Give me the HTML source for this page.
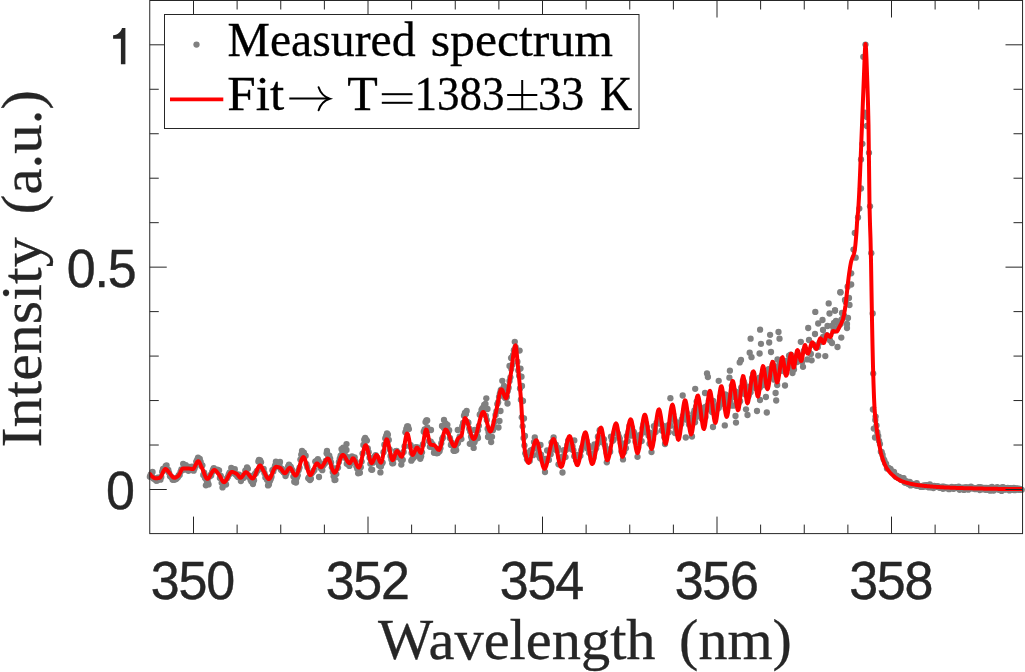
<!DOCTYPE html>
<html><head><meta charset="utf-8"><style>
html,body{margin:0;padding:0;background:#fff;}
body{width:1025px;height:672px;overflow:hidden;}
svg{display:block;will-change:transform;}

.tk{font-family:"Liberation Sans",sans-serif;font-size:52px;fill:#262626;stroke:#262626;stroke-width:0.4px;}
</style></head><body>
<svg width="1025" height="672" viewBox="0 0 1025 672">
<rect x="0" y="0" width="1025" height="672" fill="#fff"/>
<defs><clipPath id="ax"><rect x="149.5" y="0.5" width="873.0" height="533.0"/></clipPath></defs>
<g fill="#808080"><circle cx="149.9" cy="476.67" r="3.15"/><circle cx="150.78" cy="474.36" r="3.15"/><circle cx="151.65" cy="474.78" r="3.15"/><circle cx="152.53" cy="471.92" r="3.15"/><circle cx="153.4" cy="478.43" r="3.15"/><circle cx="154.28" cy="478.69" r="3.15"/><circle cx="155.15" cy="478.55" r="3.15"/><circle cx="156.03" cy="480.49" r="3.15"/><circle cx="156.9" cy="480.72" r="3.15"/><circle cx="157.78" cy="477.63" r="3.15"/><circle cx="158.65" cy="477.89" r="3.15"/><circle cx="159.53" cy="478.44" r="3.15"/><circle cx="160.4" cy="479.69" r="3.15"/><circle cx="161.28" cy="476.96" r="3.15"/><circle cx="162.15" cy="471.68" r="3.15"/><circle cx="163.03" cy="468.8" r="3.15"/><circle cx="163.9" cy="469.63" r="3.15"/><circle cx="164.78" cy="469.54" r="3.15"/><circle cx="165.65" cy="466.08" r="3.15"/><circle cx="166.53" cy="465.47" r="3.15"/><circle cx="167.4" cy="470.69" r="3.15"/><circle cx="168.28" cy="469.91" r="3.15"/><circle cx="169.15" cy="472.95" r="3.15"/><circle cx="170.03" cy="476.36" r="3.15"/><circle cx="170.9" cy="476.59" r="3.15"/><circle cx="171.78" cy="477.58" r="3.15"/><circle cx="172.65" cy="479.82" r="3.15"/><circle cx="173.53" cy="478.44" r="3.15"/><circle cx="174.4" cy="479.77" r="3.15"/><circle cx="175.28" cy="478.65" r="3.15"/><circle cx="176.15" cy="479.06" r="3.15"/><circle cx="177.03" cy="477.63" r="3.15"/><circle cx="177.9" cy="477.23" r="3.15"/><circle cx="178.78" cy="475.26" r="3.15"/><circle cx="179.65" cy="474.92" r="3.15"/><circle cx="180.53" cy="471.85" r="3.15"/><circle cx="181.4" cy="469.46" r="3.15"/><circle cx="182.28" cy="469.9" r="3.15"/><circle cx="183.15" cy="463.81" r="3.15"/><circle cx="184.03" cy="469.72" r="3.15"/><circle cx="184.9" cy="466.93" r="3.15"/><circle cx="185.78" cy="465.25" r="3.15"/><circle cx="186.65" cy="467.55" r="3.15"/><circle cx="187.53" cy="468.44" r="3.15"/><circle cx="188.4" cy="470.79" r="3.15"/><circle cx="189.28" cy="467.01" r="3.15"/><circle cx="190.15" cy="469.8" r="3.15"/><circle cx="191.03" cy="470.01" r="3.15"/><circle cx="191.9" cy="466.65" r="3.15"/><circle cx="192.78" cy="467.64" r="3.15"/><circle cx="193.65" cy="470.68" r="3.15"/><circle cx="194.53" cy="468.53" r="3.15"/><circle cx="195.4" cy="466.03" r="3.15"/><circle cx="196.28" cy="461.59" r="3.15"/><circle cx="197.15" cy="459.92" r="3.15"/><circle cx="198.03" cy="457.7" r="3.15"/><circle cx="198.9" cy="460.43" r="3.15"/><circle cx="199.78" cy="458.87" r="3.15"/><circle cx="200.65" cy="461.89" r="3.15"/><circle cx="201.53" cy="466.13" r="3.15"/><circle cx="202.4" cy="465.34" r="3.15"/><circle cx="203.28" cy="474.96" r="3.15"/><circle cx="204.15" cy="472.75" r="3.15"/><circle cx="205.03" cy="477.95" r="3.15"/><circle cx="205.9" cy="485.33" r="3.15"/><circle cx="206.78" cy="480.85" r="3.15"/><circle cx="207.65" cy="481.48" r="3.15"/><circle cx="208.53" cy="484.47" r="3.15"/><circle cx="209.4" cy="476.83" r="3.15"/><circle cx="210.28" cy="475.12" r="3.15"/><circle cx="211.15" cy="475.42" r="3.15"/><circle cx="212.03" cy="472.22" r="3.15"/><circle cx="212.9" cy="469.99" r="3.15"/><circle cx="213.78" cy="468.12" r="3.15"/><circle cx="214.65" cy="469.91" r="3.15"/><circle cx="215.53" cy="469.81" r="3.15"/><circle cx="216.4" cy="470.38" r="3.15"/><circle cx="217.28" cy="469.75" r="3.15"/><circle cx="218.15" cy="470.74" r="3.15"/><circle cx="219.03" cy="470.41" r="3.15"/><circle cx="219.9" cy="477.93" r="3.15"/><circle cx="220.78" cy="475.88" r="3.15"/><circle cx="221.65" cy="482.79" r="3.15"/><circle cx="222.53" cy="487.38" r="3.15"/><circle cx="223.4" cy="483.17" r="3.15"/><circle cx="224.28" cy="483.92" r="3.15"/><circle cx="225.15" cy="483.79" r="3.15"/><circle cx="226.03" cy="484.52" r="3.15"/><circle cx="226.9" cy="478.52" r="3.15"/><circle cx="227.78" cy="477.03" r="3.15"/><circle cx="228.65" cy="474.76" r="3.15"/><circle cx="229.53" cy="472.55" r="3.15"/><circle cx="230.4" cy="473.52" r="3.15"/><circle cx="231.28" cy="467.94" r="3.15"/><circle cx="232.15" cy="469.99" r="3.15"/><circle cx="233.03" cy="470.73" r="3.15"/><circle cx="233.9" cy="472.6" r="3.15"/><circle cx="234.78" cy="469.27" r="3.15"/><circle cx="235.65" cy="474.54" r="3.15"/><circle cx="236.53" cy="474.24" r="3.15"/><circle cx="237.4" cy="476.51" r="3.15"/><circle cx="238.28" cy="476.95" r="3.15"/><circle cx="239.15" cy="474.55" r="3.15"/><circle cx="240.03" cy="478" r="3.15"/><circle cx="240.9" cy="481" r="3.15"/><circle cx="241.78" cy="477.98" r="3.15"/><circle cx="242.65" cy="476.72" r="3.15"/><circle cx="243.53" cy="477.92" r="3.15"/><circle cx="244.4" cy="476.47" r="3.15"/><circle cx="245.28" cy="470.63" r="3.15"/><circle cx="246.15" cy="474.45" r="3.15"/><circle cx="247.03" cy="467.32" r="3.15"/><circle cx="247.9" cy="468.84" r="3.15"/><circle cx="248.78" cy="476.85" r="3.15"/><circle cx="249.65" cy="475.76" r="3.15"/><circle cx="250.53" cy="479.71" r="3.15"/><circle cx="251.4" cy="481.41" r="3.15"/><circle cx="252.28" cy="481.16" r="3.15"/><circle cx="253.15" cy="482.71" r="3.15"/><circle cx="254.03" cy="480.19" r="3.15"/><circle cx="254.9" cy="473.85" r="3.15"/><circle cx="255.78" cy="473.49" r="3.15"/><circle cx="256.65" cy="471.36" r="3.15"/><circle cx="257.52" cy="470.64" r="3.15"/><circle cx="258.4" cy="461.4" r="3.15"/><circle cx="259.27" cy="461.7" r="3.15"/><circle cx="260.15" cy="460.52" r="3.15"/><circle cx="261.02" cy="462.28" r="3.15"/><circle cx="261.9" cy="468.65" r="3.15"/><circle cx="262.77" cy="469.28" r="3.15"/><circle cx="263.65" cy="468.95" r="3.15"/><circle cx="264.52" cy="473.13" r="3.15"/><circle cx="265.4" cy="477.61" r="3.15"/><circle cx="266.27" cy="477.15" r="3.15"/><circle cx="267.15" cy="479.92" r="3.15"/><circle cx="268.02" cy="485.39" r="3.15"/><circle cx="268.9" cy="484.48" r="3.15"/><circle cx="269.77" cy="481.35" r="3.15"/><circle cx="270.65" cy="479.26" r="3.15"/><circle cx="271.52" cy="476.69" r="3.15"/><circle cx="272.4" cy="470.14" r="3.15"/><circle cx="273.27" cy="471.42" r="3.15"/><circle cx="274.15" cy="468.55" r="3.15"/><circle cx="275.02" cy="465.58" r="3.15"/><circle cx="275.9" cy="461.63" r="3.15"/><circle cx="276.77" cy="463" r="3.15"/><circle cx="277.65" cy="465.69" r="3.15"/><circle cx="278.52" cy="465.82" r="3.15"/><circle cx="279.4" cy="465.12" r="3.15"/><circle cx="280.27" cy="468.16" r="3.15"/><circle cx="281.15" cy="469.91" r="3.15"/><circle cx="282.02" cy="468.94" r="3.15"/><circle cx="282.9" cy="471.56" r="3.15"/><circle cx="283.77" cy="472.61" r="3.15"/><circle cx="284.65" cy="472.47" r="3.15"/><circle cx="285.52" cy="475.99" r="3.15"/><circle cx="286.4" cy="473.52" r="3.15"/><circle cx="287.27" cy="470.63" r="3.15"/><circle cx="288.15" cy="466.35" r="3.15"/><circle cx="289.02" cy="464.66" r="3.15"/><circle cx="289.9" cy="466.13" r="3.15"/><circle cx="290.77" cy="466.83" r="3.15"/><circle cx="291.65" cy="469.14" r="3.15"/><circle cx="292.52" cy="470.6" r="3.15"/><circle cx="293.4" cy="476.61" r="3.15"/><circle cx="294.27" cy="481.64" r="3.15"/><circle cx="295.15" cy="482.06" r="3.15"/><circle cx="296.02" cy="482.59" r="3.15"/><circle cx="296.9" cy="477.52" r="3.15"/><circle cx="297.77" cy="475.34" r="3.15"/><circle cx="298.65" cy="470.31" r="3.15"/><circle cx="299.52" cy="467.55" r="3.15"/><circle cx="300.4" cy="459.56" r="3.15"/><circle cx="301.27" cy="454.67" r="3.15"/><circle cx="302.15" cy="452.54" r="3.15"/><circle cx="303.02" cy="453.06" r="3.15"/><circle cx="303.9" cy="452.69" r="3.15"/><circle cx="304.77" cy="455.89" r="3.15"/><circle cx="305.65" cy="455.72" r="3.15"/><circle cx="306.52" cy="464.15" r="3.15"/><circle cx="307.4" cy="467.15" r="3.15"/><circle cx="308.27" cy="478.34" r="3.15"/><circle cx="309.15" cy="477.18" r="3.15"/><circle cx="310.02" cy="480.01" r="3.15"/><circle cx="310.9" cy="478.74" r="3.15"/><circle cx="311.77" cy="473.32" r="3.15"/><circle cx="312.65" cy="472.06" r="3.15"/><circle cx="313.52" cy="470.91" r="3.15"/><circle cx="314.4" cy="470.06" r="3.15"/><circle cx="315.27" cy="461.58" r="3.15"/><circle cx="316.15" cy="461.22" r="3.15"/><circle cx="317.02" cy="461.47" r="3.15"/><circle cx="317.9" cy="459.2" r="3.15"/><circle cx="318.77" cy="461.5" r="3.15"/><circle cx="319.65" cy="465.33" r="3.15"/><circle cx="320.52" cy="468.03" r="3.15"/><circle cx="321.4" cy="467.62" r="3.15"/><circle cx="322.27" cy="470.14" r="3.15"/><circle cx="323.15" cy="465.65" r="3.15"/><circle cx="324.02" cy="463.97" r="3.15"/><circle cx="324.9" cy="463.44" r="3.15"/><circle cx="325.77" cy="460.91" r="3.15"/><circle cx="326.65" cy="453.23" r="3.15"/><circle cx="327.52" cy="454.35" r="3.15"/><circle cx="328.4" cy="457.95" r="3.15"/><circle cx="329.27" cy="455.63" r="3.15"/><circle cx="330.15" cy="458.54" r="3.15"/><circle cx="331.02" cy="462.48" r="3.15"/><circle cx="331.9" cy="467.26" r="3.15"/><circle cx="332.77" cy="471.98" r="3.15"/><circle cx="333.65" cy="476.21" r="3.15"/><circle cx="334.52" cy="480.08" r="3.15"/><circle cx="335.4" cy="479.83" r="3.15"/><circle cx="336.27" cy="474.09" r="3.15"/><circle cx="337.15" cy="468.23" r="3.15"/><circle cx="338.02" cy="467.54" r="3.15"/><circle cx="338.9" cy="462.03" r="3.15"/><circle cx="339.77" cy="458.66" r="3.15"/><circle cx="340.65" cy="455.61" r="3.15"/><circle cx="341.52" cy="449.03" r="3.15"/><circle cx="342.4" cy="451.96" r="3.15"/><circle cx="343.27" cy="447.55" r="3.15"/><circle cx="344.15" cy="451.11" r="3.15"/><circle cx="345.02" cy="455.46" r="3.15"/><circle cx="345.9" cy="458.38" r="3.15"/><circle cx="346.77" cy="463.68" r="3.15"/><circle cx="347.65" cy="457.08" r="3.15"/><circle cx="348.52" cy="464.43" r="3.15"/><circle cx="349.4" cy="465.91" r="3.15"/><circle cx="350.27" cy="462.49" r="3.15"/><circle cx="351.15" cy="462.93" r="3.15"/><circle cx="352.02" cy="456.29" r="3.15"/><circle cx="352.9" cy="458.3" r="3.15"/><circle cx="353.77" cy="459.26" r="3.15"/><circle cx="354.65" cy="457.5" r="3.15"/><circle cx="355.52" cy="461.55" r="3.15"/><circle cx="356.4" cy="466.32" r="3.15"/><circle cx="357.27" cy="468.74" r="3.15"/><circle cx="358.15" cy="473.37" r="3.15"/><circle cx="359.02" cy="472.68" r="3.15"/><circle cx="359.9" cy="472.72" r="3.15"/><circle cx="360.77" cy="467.15" r="3.15"/><circle cx="361.65" cy="461.54" r="3.15"/><circle cx="362.52" cy="453.62" r="3.15"/><circle cx="363.4" cy="444.98" r="3.15"/><circle cx="364.27" cy="439.74" r="3.15"/><circle cx="365.15" cy="438" r="3.15"/><circle cx="366.02" cy="439.64" r="3.15"/><circle cx="366.9" cy="440.56" r="3.15"/><circle cx="367.77" cy="448.5" r="3.15"/><circle cx="368.65" cy="452.21" r="3.15"/><circle cx="369.52" cy="457.75" r="3.15"/><circle cx="370.4" cy="463.87" r="3.15"/><circle cx="371.27" cy="469.62" r="3.15"/><circle cx="372.15" cy="469.74" r="3.15"/><circle cx="373.02" cy="462.7" r="3.15"/><circle cx="373.9" cy="460.33" r="3.15"/><circle cx="374.77" cy="456.4" r="3.15"/><circle cx="375.65" cy="455.2" r="3.15"/><circle cx="376.52" cy="457.6" r="3.15"/><circle cx="377.4" cy="457.61" r="3.15"/><circle cx="378.27" cy="462.45" r="3.15"/><circle cx="379.15" cy="465.56" r="3.15"/><circle cx="380.02" cy="464.67" r="3.15"/><circle cx="380.9" cy="466.55" r="3.15"/><circle cx="381.77" cy="463.83" r="3.15"/><circle cx="382.65" cy="462.6" r="3.15"/><circle cx="383.52" cy="452.13" r="3.15"/><circle cx="384.4" cy="444.72" r="3.15"/><circle cx="385.27" cy="438.41" r="3.15"/><circle cx="386.15" cy="435.97" r="3.15"/><circle cx="387.02" cy="433.45" r="3.15"/><circle cx="387.9" cy="434.74" r="3.15"/><circle cx="388.77" cy="440.01" r="3.15"/><circle cx="389.65" cy="449.33" r="3.15"/><circle cx="390.52" cy="455.93" r="3.15"/><circle cx="391.4" cy="459.52" r="3.15"/><circle cx="392.27" cy="463.34" r="3.15"/><circle cx="393.15" cy="463.21" r="3.15"/><circle cx="394.02" cy="457.89" r="3.15"/><circle cx="394.9" cy="457.32" r="3.15"/><circle cx="395.77" cy="451.23" r="3.15"/><circle cx="396.65" cy="450.96" r="3.15"/><circle cx="397.52" cy="452.95" r="3.15"/><circle cx="398.4" cy="453.16" r="3.15"/><circle cx="399.27" cy="457.16" r="3.15"/><circle cx="400.15" cy="458.3" r="3.15"/><circle cx="401.02" cy="459.72" r="3.15"/><circle cx="401.9" cy="460.35" r="3.15"/><circle cx="402.77" cy="459.81" r="3.15"/><circle cx="403.65" cy="452" r="3.15"/><circle cx="404.52" cy="446.44" r="3.15"/><circle cx="405.4" cy="432.19" r="3.15"/><circle cx="406.27" cy="428.96" r="3.15"/><circle cx="407.15" cy="426.42" r="3.15"/><circle cx="408.02" cy="426.46" r="3.15"/><circle cx="408.9" cy="429.12" r="3.15"/><circle cx="409.77" cy="446.31" r="3.15"/><circle cx="410.65" cy="445.23" r="3.15"/><circle cx="411.52" cy="453.07" r="3.15"/><circle cx="412.4" cy="458.88" r="3.15"/><circle cx="413.27" cy="457.87" r="3.15"/><circle cx="414.15" cy="457.04" r="3.15"/><circle cx="415.02" cy="452.68" r="3.15"/><circle cx="415.9" cy="447.15" r="3.15"/><circle cx="416.77" cy="450.57" r="3.15"/><circle cx="417.65" cy="447.4" r="3.15"/><circle cx="418.52" cy="451.87" r="3.15"/><circle cx="419.4" cy="455.48" r="3.15"/><circle cx="420.27" cy="458.78" r="3.15"/><circle cx="421.15" cy="456.21" r="3.15"/><circle cx="422.02" cy="452.33" r="3.15"/><circle cx="422.9" cy="444.45" r="3.15"/><circle cx="423.77" cy="431.64" r="3.15"/><circle cx="424.65" cy="429.31" r="3.15"/><circle cx="425.52" cy="422.1" r="3.15"/><circle cx="426.4" cy="420.47" r="3.15"/><circle cx="427.27" cy="427.43" r="3.15"/><circle cx="428.15" cy="429.88" r="3.15"/><circle cx="429.02" cy="441.15" r="3.15"/><circle cx="429.9" cy="446.73" r="3.15"/><circle cx="430.77" cy="441.66" r="3.15"/><circle cx="431.65" cy="445.94" r="3.15"/><circle cx="432.52" cy="444.15" r="3.15"/><circle cx="433.4" cy="447.72" r="3.15"/><circle cx="434.27" cy="447.54" r="3.15"/><circle cx="435.15" cy="449.72" r="3.15"/><circle cx="436.02" cy="450.35" r="3.15"/><circle cx="436.9" cy="453.36" r="3.15"/><circle cx="437.77" cy="452.94" r="3.15"/><circle cx="438.65" cy="449.03" r="3.15"/><circle cx="439.52" cy="451.19" r="3.15"/><circle cx="440.4" cy="448.26" r="3.15"/><circle cx="441.27" cy="443.26" r="3.15"/><circle cx="442.15" cy="438.91" r="3.15"/><circle cx="443.02" cy="437.48" r="3.15"/><circle cx="443.9" cy="428.03" r="3.15"/><circle cx="444.77" cy="427.25" r="3.15"/><circle cx="445.65" cy="423.32" r="3.15"/><circle cx="446.52" cy="428.09" r="3.15"/><circle cx="447.4" cy="424.79" r="3.15"/><circle cx="448.27" cy="431.97" r="3.15"/><circle cx="449.15" cy="430.19" r="3.15"/><circle cx="450.02" cy="438.18" r="3.15"/><circle cx="450.9" cy="444.9" r="3.15"/><circle cx="451.77" cy="442.45" r="3.15"/><circle cx="452.65" cy="445.7" r="3.15"/><circle cx="453.52" cy="450.58" r="3.15"/><circle cx="454.4" cy="450.93" r="3.15"/><circle cx="455.27" cy="446.98" r="3.15"/><circle cx="456.15" cy="450.23" r="3.15"/><circle cx="457.02" cy="443.79" r="3.15"/><circle cx="457.9" cy="443.09" r="3.15"/><circle cx="458.77" cy="439.91" r="3.15"/><circle cx="459.65" cy="436.58" r="3.15"/><circle cx="460.52" cy="437.08" r="3.15"/><circle cx="461.4" cy="439.06" r="3.15"/><circle cx="462.27" cy="426.27" r="3.15"/><circle cx="463.15" cy="423.02" r="3.15"/><circle cx="464.02" cy="415.7" r="3.15"/><circle cx="464.9" cy="412.94" r="3.15"/><circle cx="465.77" cy="414.1" r="3.15"/><circle cx="466.65" cy="410.98" r="3.15"/><circle cx="467.52" cy="422.15" r="3.15"/><circle cx="468.4" cy="422.72" r="3.15"/><circle cx="469.27" cy="428.67" r="3.15"/><circle cx="470.15" cy="431.48" r="3.15"/><circle cx="471.02" cy="436.41" r="3.15"/><circle cx="471.9" cy="439.5" r="3.15"/><circle cx="472.77" cy="443.88" r="3.15"/><circle cx="473.65" cy="447.97" r="3.15"/><circle cx="474.52" cy="442.3" r="3.15"/><circle cx="475.4" cy="437.43" r="3.15"/><circle cx="476.27" cy="438.82" r="3.15"/><circle cx="477.15" cy="435.66" r="3.15"/><circle cx="478.02" cy="430.29" r="3.15"/><circle cx="478.9" cy="425.81" r="3.15"/><circle cx="479.77" cy="414.72" r="3.15"/><circle cx="480.65" cy="413.73" r="3.15"/><circle cx="481.52" cy="409.78" r="3.15"/><circle cx="482.4" cy="408.44" r="3.15"/><circle cx="483.27" cy="407.63" r="3.15"/><circle cx="484.15" cy="404.84" r="3.15"/><circle cx="485.02" cy="407.74" r="3.15"/><circle cx="485.9" cy="415.81" r="3.15"/><circle cx="486.77" cy="419.88" r="3.15"/><circle cx="487.65" cy="428.72" r="3.15"/><circle cx="488.52" cy="431.93" r="3.15"/><circle cx="489.4" cy="436.62" r="3.15"/><circle cx="490.27" cy="437.55" r="3.15"/><circle cx="491.15" cy="442.1" r="3.15"/><circle cx="492.02" cy="436.79" r="3.15"/><circle cx="492.9" cy="430.35" r="3.15"/><circle cx="493.77" cy="426.18" r="3.15"/><circle cx="494.65" cy="421.57" r="3.15"/><circle cx="495.52" cy="414.89" r="3.15"/><circle cx="496.4" cy="411.37" r="3.15"/><circle cx="497.27" cy="404.07" r="3.15"/><circle cx="498.15" cy="402.19" r="3.15"/><circle cx="499.02" cy="396.79" r="3.15"/><circle cx="499.9" cy="393.29" r="3.15"/><circle cx="500.77" cy="390.25" r="3.15"/><circle cx="501.65" cy="389.35" r="3.15"/><circle cx="502.52" cy="389.83" r="3.15"/><circle cx="503.4" cy="393.57" r="3.15"/><circle cx="504.27" cy="394.8" r="3.15"/><circle cx="505.15" cy="397.99" r="3.15"/><circle cx="506.02" cy="398.37" r="3.15"/><circle cx="506.9" cy="397.09" r="3.15"/><circle cx="507.77" cy="391.08" r="3.15"/><circle cx="508.65" cy="387.71" r="3.15"/><circle cx="509.52" cy="381.02" r="3.15"/><circle cx="510.4" cy="377.33" r="3.15"/><circle cx="511.27" cy="369.06" r="3.15"/><circle cx="512.15" cy="365.1" r="3.15"/><circle cx="513.02" cy="355.14" r="3.15"/><circle cx="513.9" cy="350.22" r="3.15"/><circle cx="514.77" cy="341.86" r="3.15"/><circle cx="515.65" cy="347.03" r="3.15"/><circle cx="516.52" cy="350.36" r="3.15"/><circle cx="517.4" cy="361.77" r="3.15"/><circle cx="518.27" cy="370.49" r="3.15"/><circle cx="519.15" cy="375.84" r="3.15"/><circle cx="520.02" cy="388.45" r="3.15"/><circle cx="520.9" cy="399.7" r="3.15"/><circle cx="521.77" cy="417.37" r="3.15"/><circle cx="522.65" cy="426.32" r="3.15"/><circle cx="523.52" cy="438.04" r="3.15"/><circle cx="524.4" cy="445.44" r="3.15"/><circle cx="525.27" cy="453.32" r="3.15"/><circle cx="526.15" cy="455.28" r="3.15"/><circle cx="527.02" cy="459.25" r="3.15"/><circle cx="527.9" cy="460.08" r="3.15"/><circle cx="528.77" cy="460.16" r="3.15"/><circle cx="529.65" cy="460.96" r="3.15"/><circle cx="530.52" cy="450.72" r="3.15"/><circle cx="531.4" cy="453.98" r="3.15"/><circle cx="532.27" cy="449.68" r="3.15"/><circle cx="533.15" cy="455.22" r="3.15"/><circle cx="534.02" cy="442.07" r="3.15"/><circle cx="534.9" cy="442.49" r="3.15"/><circle cx="535.77" cy="447.92" r="3.15"/><circle cx="536.65" cy="446.16" r="3.15"/><circle cx="537.52" cy="444.62" r="3.15"/><circle cx="538.4" cy="452.76" r="3.15"/><circle cx="539.27" cy="456.22" r="3.15"/><circle cx="540.15" cy="458.27" r="3.15"/><circle cx="541.02" cy="454.62" r="3.15"/><circle cx="541.9" cy="458.33" r="3.15"/><circle cx="542.77" cy="460.97" r="3.15"/><circle cx="543.65" cy="460.98" r="3.15"/><circle cx="544.52" cy="464.95" r="3.15"/><circle cx="545.4" cy="458.95" r="3.15"/><circle cx="546.27" cy="460.69" r="3.15"/><circle cx="547.15" cy="450.5" r="3.15"/><circle cx="548.02" cy="459.06" r="3.15"/><circle cx="548.9" cy="459.9" r="3.15"/><circle cx="549.77" cy="451.55" r="3.15"/><circle cx="550.65" cy="454.27" r="3.15"/><circle cx="551.52" cy="442.6" r="3.15"/><circle cx="552.4" cy="445.97" r="3.15"/><circle cx="553.27" cy="440.98" r="3.15"/><circle cx="554.15" cy="447.77" r="3.15"/><circle cx="555.02" cy="449.54" r="3.15"/><circle cx="555.9" cy="444.6" r="3.15"/><circle cx="556.77" cy="448.85" r="3.15"/><circle cx="557.65" cy="451.04" r="3.15"/><circle cx="558.52" cy="464.29" r="3.15"/><circle cx="559.4" cy="457.32" r="3.15"/><circle cx="560.27" cy="459.29" r="3.15"/><circle cx="561.15" cy="460.39" r="3.15"/><circle cx="562.02" cy="459.72" r="3.15"/><circle cx="562.9" cy="456.32" r="3.15"/><circle cx="563.77" cy="450.24" r="3.15"/><circle cx="564.65" cy="451.35" r="3.15"/><circle cx="565.52" cy="457.06" r="3.15"/><circle cx="566.4" cy="449.53" r="3.15"/><circle cx="567.27" cy="445.04" r="3.15"/><circle cx="568.15" cy="440.6" r="3.15"/><circle cx="569.02" cy="444.09" r="3.15"/><circle cx="569.9" cy="444.31" r="3.15"/><circle cx="570.77" cy="442.92" r="3.15"/><circle cx="571.65" cy="449.34" r="3.15"/><circle cx="572.52" cy="446.16" r="3.15"/><circle cx="573.4" cy="450.13" r="3.15"/><circle cx="574.27" cy="456.19" r="3.15"/><circle cx="575.15" cy="455.06" r="3.15"/><circle cx="576.02" cy="460.04" r="3.15"/><circle cx="576.9" cy="456.04" r="3.15"/><circle cx="577.77" cy="454.99" r="3.15"/><circle cx="578.65" cy="457.62" r="3.15"/><circle cx="579.52" cy="454.82" r="3.15"/><circle cx="580.4" cy="455.82" r="3.15"/><circle cx="581.27" cy="450.24" r="3.15"/><circle cx="582.15" cy="447.28" r="3.15"/><circle cx="583.02" cy="446.35" r="3.15"/><circle cx="583.9" cy="444.95" r="3.15"/><circle cx="584.77" cy="437.27" r="3.15"/><circle cx="585.65" cy="440.61" r="3.15"/><circle cx="586.52" cy="440.82" r="3.15"/><circle cx="587.4" cy="448.59" r="3.15"/><circle cx="588.27" cy="445.51" r="3.15"/><circle cx="589.15" cy="452.67" r="3.15"/><circle cx="590.02" cy="447.28" r="3.15"/><circle cx="590.9" cy="453.9" r="3.15"/><circle cx="591.77" cy="458.89" r="3.15"/><circle cx="592.65" cy="453.95" r="3.15"/><circle cx="593.52" cy="457.85" r="3.15"/><circle cx="594.4" cy="444.38" r="3.15"/><circle cx="595.27" cy="449.25" r="3.15"/><circle cx="596.15" cy="448.35" r="3.15"/><circle cx="597.02" cy="444.48" r="3.15"/><circle cx="597.9" cy="436.72" r="3.15"/><circle cx="598.77" cy="442.07" r="3.15"/><circle cx="599.65" cy="430.25" r="3.15"/><circle cx="600.52" cy="440.6" r="3.15"/><circle cx="601.4" cy="438.03" r="3.15"/><circle cx="602.27" cy="442.24" r="3.15"/><circle cx="603.15" cy="439.16" r="3.15"/><circle cx="604.02" cy="439.44" r="3.15"/><circle cx="604.9" cy="445.06" r="3.15"/><circle cx="605.77" cy="448.05" r="3.15"/><circle cx="606.65" cy="452.78" r="3.15"/><circle cx="607.52" cy="449.87" r="3.15"/><circle cx="608.4" cy="451.34" r="3.15"/><circle cx="609.27" cy="449.59" r="3.15"/><circle cx="610.15" cy="451.74" r="3.15"/><circle cx="611.02" cy="436.77" r="3.15"/><circle cx="611.9" cy="439.64" r="3.15"/><circle cx="612.77" cy="440.79" r="3.15"/><circle cx="613.65" cy="439.5" r="3.15"/><circle cx="614.52" cy="432.75" r="3.15"/><circle cx="615.4" cy="432.27" r="3.15"/><circle cx="616.27" cy="432.49" r="3.15"/><circle cx="617.15" cy="433.85" r="3.15"/><circle cx="618.02" cy="433.68" r="3.15"/><circle cx="618.9" cy="436.73" r="3.15"/><circle cx="619.77" cy="438.56" r="3.15"/><circle cx="620.65" cy="442.83" r="3.15"/><circle cx="621.52" cy="451.57" r="3.15"/><circle cx="622.4" cy="443.78" r="3.15"/><circle cx="623.27" cy="449.56" r="3.15"/><circle cx="624.15" cy="452.12" r="3.15"/><circle cx="625.02" cy="443.37" r="3.15"/><circle cx="625.9" cy="448.16" r="3.15"/><circle cx="626.77" cy="436.09" r="3.15"/><circle cx="627.65" cy="441.1" r="3.15"/><circle cx="628.52" cy="432.18" r="3.15"/><circle cx="629.4" cy="425.83" r="3.15"/><circle cx="630.27" cy="430.24" r="3.15"/><circle cx="631.15" cy="435.7" r="3.15"/><circle cx="632.02" cy="427.93" r="3.15"/><circle cx="632.9" cy="434.19" r="3.15"/><circle cx="633.77" cy="431.97" r="3.15"/><circle cx="634.65" cy="434" r="3.15"/><circle cx="635.52" cy="441.85" r="3.15"/><circle cx="636.4" cy="441.8" r="3.15"/><circle cx="637.27" cy="445.33" r="3.15"/><circle cx="638.15" cy="447.58" r="3.15"/><circle cx="639.02" cy="436.92" r="3.15"/><circle cx="639.9" cy="435.71" r="3.15"/><circle cx="640.77" cy="434.77" r="3.15"/><circle cx="641.65" cy="441.1" r="3.15"/><circle cx="642.52" cy="428.1" r="3.15"/><circle cx="643.4" cy="424.7" r="3.15"/><circle cx="644.27" cy="426.43" r="3.15"/><circle cx="645.15" cy="432.3" r="3.15"/><circle cx="646.02" cy="423.72" r="3.15"/><circle cx="646.9" cy="427.12" r="3.15"/><circle cx="647.77" cy="431.45" r="3.15"/><circle cx="648.65" cy="435.64" r="3.15"/><circle cx="649.52" cy="443.8" r="3.15"/><circle cx="650.4" cy="433.76" r="3.15"/><circle cx="651.27" cy="433.19" r="3.15"/><circle cx="652.15" cy="439.5" r="3.15"/><circle cx="653.02" cy="439.07" r="3.15"/><circle cx="653.9" cy="426.1" r="3.15"/><circle cx="654.77" cy="428.26" r="3.15"/><circle cx="655.65" cy="432.02" r="3.15"/><circle cx="656.52" cy="422.99" r="3.15"/><circle cx="657.4" cy="423.58" r="3.15"/><circle cx="658.27" cy="420.61" r="3.15"/><circle cx="659.15" cy="422.04" r="3.15"/><circle cx="660.02" cy="422.15" r="3.15"/><circle cx="660.9" cy="423.81" r="3.15"/><circle cx="661.77" cy="430.42" r="3.15"/><circle cx="662.65" cy="425.55" r="3.15"/><circle cx="663.52" cy="431.15" r="3.15"/><circle cx="664.4" cy="437.21" r="3.15"/><circle cx="665.27" cy="432.21" r="3.15"/><circle cx="666.15" cy="432.7" r="3.15"/><circle cx="667.02" cy="429.44" r="3.15"/><circle cx="667.9" cy="425.52" r="3.15"/><circle cx="668.77" cy="432.21" r="3.15"/><circle cx="669.65" cy="424.57" r="3.15"/><circle cx="670.52" cy="425.81" r="3.15"/><circle cx="671.4" cy="418.81" r="3.15"/><circle cx="672.27" cy="415.28" r="3.15"/><circle cx="673.15" cy="414.31" r="3.15"/><circle cx="674.02" cy="418.47" r="3.15"/><circle cx="674.9" cy="420.84" r="3.15"/><circle cx="675.77" cy="428.14" r="3.15"/><circle cx="676.65" cy="423.51" r="3.15"/><circle cx="677.52" cy="429.99" r="3.15"/><circle cx="678.4" cy="431.86" r="3.15"/><circle cx="679.27" cy="427.82" r="3.15"/><circle cx="680.15" cy="422.3" r="3.15"/><circle cx="680.7" cy="424.51" r="3.15"/><circle cx="681.25" cy="423.72" r="3.15"/><circle cx="681.8" cy="419.45" r="3.15"/><circle cx="682.35" cy="418.91" r="3.15"/><circle cx="682.9" cy="416.02" r="3.15"/><circle cx="683.45" cy="419.47" r="3.15"/><circle cx="684" cy="416.24" r="3.15"/><circle cx="684.55" cy="410.22" r="3.15"/><circle cx="685.1" cy="414.64" r="3.15"/><circle cx="685.65" cy="418.05" r="3.15"/><circle cx="686.2" cy="416.92" r="3.15"/><circle cx="686.75" cy="412.79" r="3.15"/><circle cx="687.3" cy="419.87" r="3.15"/><circle cx="687.85" cy="419.92" r="3.15"/><circle cx="688.4" cy="420.47" r="3.15"/><circle cx="688.95" cy="424.46" r="3.15"/><circle cx="689.5" cy="417.86" r="3.15"/><circle cx="690.05" cy="421.75" r="3.15"/><circle cx="690.6" cy="418.68" r="3.15"/><circle cx="691.15" cy="423.38" r="3.15"/><circle cx="691.7" cy="423.76" r="3.15"/><circle cx="692.25" cy="420.74" r="3.15"/><circle cx="692.8" cy="420.34" r="3.15"/><circle cx="693.35" cy="413.62" r="3.15"/><circle cx="693.9" cy="418.2" r="3.15"/><circle cx="694.45" cy="410.43" r="3.15"/><circle cx="695" cy="422.27" r="3.15"/><circle cx="695.55" cy="417.58" r="3.15"/><circle cx="696.1" cy="406.57" r="3.15"/><circle cx="696.65" cy="401.53" r="3.15"/><circle cx="697.2" cy="415.94" r="3.15"/><circle cx="697.75" cy="407.28" r="3.15"/><circle cx="698.3" cy="412.32" r="3.15"/><circle cx="698.85" cy="405.49" r="3.15"/><circle cx="699.4" cy="411" r="3.15"/><circle cx="699.95" cy="408.7" r="3.15"/><circle cx="700.5" cy="413.92" r="3.15"/><circle cx="701.05" cy="410.94" r="3.15"/><circle cx="701.6" cy="418.43" r="3.15"/><circle cx="702.15" cy="410.47" r="3.15"/><circle cx="702.7" cy="418.73" r="3.15"/><circle cx="703.25" cy="414.22" r="3.15"/><circle cx="703.8" cy="416.55" r="3.15"/><circle cx="704.35" cy="408.25" r="3.15"/><circle cx="704.9" cy="407.08" r="3.15"/><circle cx="705.45" cy="416.94" r="3.15"/><circle cx="706" cy="407.33" r="3.15"/><circle cx="706.55" cy="409.63" r="3.15"/><circle cx="707.1" cy="408.55" r="3.15"/><circle cx="707.65" cy="405.18" r="3.15"/><circle cx="708.2" cy="408.26" r="3.15"/><circle cx="708.75" cy="401.11" r="3.15"/><circle cx="709.3" cy="400.46" r="3.15"/><circle cx="709.85" cy="408.15" r="3.15"/><circle cx="710.4" cy="401.61" r="3.15"/><circle cx="710.95" cy="407.79" r="3.15"/><circle cx="711.5" cy="408.03" r="3.15"/><circle cx="712.05" cy="411.96" r="3.15"/><circle cx="712.6" cy="408.71" r="3.15"/><circle cx="713.15" cy="400.82" r="3.15"/><circle cx="713.7" cy="406.06" r="3.15"/><circle cx="714.25" cy="407.6" r="3.15"/><circle cx="714.8" cy="414.44" r="3.15"/><circle cx="715.35" cy="410.92" r="3.15"/><circle cx="715.9" cy="407.26" r="3.15"/><circle cx="716.45" cy="410.01" r="3.15"/><circle cx="717" cy="406.03" r="3.15"/><circle cx="717.55" cy="408.37" r="3.15"/><circle cx="718.1" cy="405.67" r="3.15"/><circle cx="718.65" cy="408.08" r="3.15"/><circle cx="719.2" cy="403.95" r="3.15"/><circle cx="719.75" cy="405.35" r="3.15"/><circle cx="720.3" cy="399.77" r="3.15"/><circle cx="720.85" cy="401.99" r="3.15"/><circle cx="721.4" cy="398.5" r="3.15"/><circle cx="721.95" cy="401.65" r="3.15"/><circle cx="722.5" cy="400.44" r="3.15"/><circle cx="723.05" cy="399.7" r="3.15"/><circle cx="723.6" cy="399.29" r="3.15"/><circle cx="724.15" cy="400.61" r="3.15"/><circle cx="724.7" cy="404.21" r="3.15"/><circle cx="725.25" cy="394.4" r="3.15"/><circle cx="725.8" cy="408.74" r="3.15"/><circle cx="726.35" cy="395.12" r="3.15"/><circle cx="726.9" cy="403.14" r="3.15"/><circle cx="727.45" cy="402.05" r="3.15"/><circle cx="728" cy="405.31" r="3.15"/><circle cx="728.55" cy="402.4" r="3.15"/><circle cx="729.1" cy="400.2" r="3.15"/><circle cx="729.65" cy="399.46" r="3.15"/><circle cx="730.2" cy="401.48" r="3.15"/><circle cx="730.75" cy="405.54" r="3.15"/><circle cx="731.3" cy="395.9" r="3.15"/><circle cx="731.85" cy="385.83" r="3.15"/><circle cx="732.4" cy="391.52" r="3.15"/><circle cx="732.95" cy="394.51" r="3.15"/><circle cx="733.5" cy="405.67" r="3.15"/><circle cx="734.05" cy="390.62" r="3.15"/><circle cx="734.6" cy="392.78" r="3.15"/><circle cx="735.15" cy="397.15" r="3.15"/><circle cx="735.7" cy="397.17" r="3.15"/><circle cx="736.25" cy="391.82" r="3.15"/><circle cx="736.8" cy="401.97" r="3.15"/><circle cx="737.35" cy="393.79" r="3.15"/><circle cx="737.9" cy="397.85" r="3.15"/><circle cx="738.45" cy="403.52" r="3.15"/><circle cx="739" cy="392.61" r="3.15"/><circle cx="739.55" cy="395.07" r="3.15"/><circle cx="740.1" cy="401.23" r="3.15"/><circle cx="740.65" cy="392.26" r="3.15"/><circle cx="741.2" cy="387.6" r="3.15"/><circle cx="741.75" cy="387.8" r="3.15"/><circle cx="742.3" cy="390.74" r="3.15"/><circle cx="742.85" cy="380.96" r="3.15"/><circle cx="743.4" cy="384.43" r="3.15"/><circle cx="743.95" cy="381.78" r="3.15"/><circle cx="744.5" cy="383.84" r="3.15"/><circle cx="745.05" cy="394.32" r="3.15"/><circle cx="745.6" cy="390.4" r="3.15"/><circle cx="746.15" cy="390.27" r="3.15"/><circle cx="746.7" cy="394.55" r="3.15"/><circle cx="747.25" cy="390.8" r="3.15"/><circle cx="747.8" cy="388.47" r="3.15"/><circle cx="748.35" cy="396.58" r="3.15"/><circle cx="748.9" cy="394.44" r="3.15"/><circle cx="749.45" cy="386.56" r="3.15"/><circle cx="750" cy="391" r="3.15"/><circle cx="750.55" cy="392.37" r="3.15"/><circle cx="751.1" cy="387.21" r="3.15"/><circle cx="751.65" cy="385.86" r="3.15"/><circle cx="752.2" cy="378.01" r="3.15"/><circle cx="752.75" cy="381.26" r="3.15"/><circle cx="753.3" cy="373.71" r="3.15"/><circle cx="753.85" cy="385.3" r="3.15"/><circle cx="754.4" cy="381.05" r="3.15"/><circle cx="754.95" cy="387.69" r="3.15"/><circle cx="755.5" cy="380.78" r="3.15"/><circle cx="756.05" cy="388.18" r="3.15"/><circle cx="756.6" cy="379.79" r="3.15"/><circle cx="757.15" cy="385.05" r="3.15"/><circle cx="757.7" cy="389.07" r="3.15"/><circle cx="758.25" cy="388.26" r="3.15"/><circle cx="758.8" cy="385.07" r="3.15"/><circle cx="759.35" cy="377.69" r="3.15"/><circle cx="759.9" cy="387.52" r="3.15"/><circle cx="760.45" cy="383.38" r="3.15"/><circle cx="761" cy="383.6" r="3.15"/><circle cx="761.55" cy="382.06" r="3.15"/><circle cx="762.1" cy="375.03" r="3.15"/><circle cx="762.65" cy="377.01" r="3.15"/><circle cx="763.2" cy="385.12" r="3.15"/><circle cx="763.75" cy="371.8" r="3.15"/><circle cx="764.3" cy="377.91" r="3.15"/><circle cx="764.85" cy="375.26" r="3.15"/><circle cx="765.4" cy="385.23" r="3.15"/><circle cx="765.95" cy="380.26" r="3.15"/><circle cx="766.5" cy="376.47" r="3.15"/><circle cx="767.05" cy="378.65" r="3.15"/><circle cx="767.6" cy="375.62" r="3.15"/><circle cx="768.15" cy="371.8" r="3.15"/><circle cx="768.7" cy="369.24" r="3.15"/><circle cx="769.25" cy="375.65" r="3.15"/><circle cx="769.8" cy="371.16" r="3.15"/><circle cx="770.35" cy="374.53" r="3.15"/><circle cx="770.9" cy="369.34" r="3.15"/><circle cx="771.45" cy="372.12" r="3.15"/><circle cx="772" cy="377.09" r="3.15"/><circle cx="772.55" cy="365.18" r="3.15"/><circle cx="773.1" cy="364.94" r="3.15"/><circle cx="773.65" cy="373.73" r="3.15"/><circle cx="774.2" cy="379.68" r="3.15"/><circle cx="774.75" cy="368.23" r="3.15"/><circle cx="775.3" cy="367.13" r="3.15"/><circle cx="775.85" cy="373.35" r="3.15"/><circle cx="776.4" cy="373.47" r="3.15"/><circle cx="776.95" cy="377.92" r="3.15"/><circle cx="777.5" cy="370.78" r="3.15"/><circle cx="778.05" cy="373.1" r="3.15"/><circle cx="778.6" cy="371.83" r="3.15"/><circle cx="779.15" cy="365.64" r="3.15"/><circle cx="779.7" cy="364.21" r="3.15"/><circle cx="780.25" cy="370.49" r="3.15"/><circle cx="780.8" cy="368.19" r="3.15"/><circle cx="781.35" cy="362.01" r="3.15"/><circle cx="781.9" cy="370.48" r="3.15"/><circle cx="782.45" cy="367.89" r="3.15"/><circle cx="783" cy="366.51" r="3.15"/><circle cx="783.55" cy="367.96" r="3.15"/><circle cx="784.1" cy="368.07" r="3.15"/><circle cx="784.65" cy="370.63" r="3.15"/><circle cx="785.2" cy="372.11" r="3.15"/><circle cx="785.75" cy="369.61" r="3.15"/><circle cx="786.3" cy="360.92" r="3.15"/><circle cx="786.85" cy="367.27" r="3.15"/><circle cx="787.4" cy="363.46" r="3.15"/><circle cx="787.95" cy="360.71" r="3.15"/><circle cx="788.5" cy="366.19" r="3.15"/><circle cx="789.05" cy="355.62" r="3.15"/><circle cx="789.6" cy="364.47" r="3.15"/><circle cx="790.15" cy="357.75" r="3.15"/><circle cx="790.7" cy="354.71" r="3.15"/><circle cx="791.25" cy="355.66" r="3.15"/><circle cx="791.8" cy="368.86" r="3.15"/><circle cx="792.35" cy="366.78" r="3.15"/><circle cx="792.9" cy="361.19" r="3.15"/><circle cx="793.45" cy="367.07" r="3.15"/><circle cx="794" cy="369.59" r="3.15"/><circle cx="794.55" cy="358.46" r="3.15"/><circle cx="795.1" cy="360.62" r="3.15"/><circle cx="796.85" cy="356.01" r="3.15"/><circle cx="798.6" cy="354.89" r="3.15"/><circle cx="800.35" cy="356.76" r="3.15"/><circle cx="802.1" cy="362.05" r="3.15"/><circle cx="803.85" cy="350.99" r="3.15"/><circle cx="805.6" cy="350.14" r="3.15"/><circle cx="807.35" cy="359.46" r="3.15"/><circle cx="809.1" cy="352.22" r="3.15"/><circle cx="810.85" cy="354" r="3.15"/><circle cx="812.6" cy="344.8" r="3.15"/><circle cx="814.35" cy="345.15" r="3.15"/><circle cx="816.1" cy="347.57" r="3.15"/><circle cx="817.85" cy="347.07" r="3.15"/><circle cx="819.6" cy="342.58" r="3.15"/><circle cx="821.35" cy="341.18" r="3.15"/><circle cx="823.1" cy="336.94" r="3.15"/><circle cx="824.85" cy="336.27" r="3.15"/><circle cx="826.6" cy="335.22" r="3.15"/><circle cx="828.35" cy="337.79" r="3.15"/><circle cx="830.1" cy="340.49" r="3.15"/><circle cx="831.85" cy="325.87" r="3.15"/><circle cx="833.6" cy="330.81" r="3.15"/><circle cx="835.35" cy="328.89" r="3.15"/><circle cx="837.1" cy="328.74" r="3.15"/><circle cx="838.85" cy="325.5" r="3.15"/><circle cx="840.6" cy="323.97" r="3.15"/><circle cx="842.35" cy="318.98" r="3.15"/><circle cx="844.1" cy="315.74" r="3.15"/><circle cx="845.85" cy="301.98" r="3.15"/><circle cx="847.6" cy="286.64" r="3.15"/><circle cx="875.6" cy="416.62" r="3.15"/><circle cx="876.47" cy="425.49" r="3.15"/><circle cx="877.35" cy="432.26" r="3.15"/><circle cx="878.22" cy="435.93" r="3.15"/><circle cx="879.1" cy="440.91" r="3.15"/><circle cx="879.97" cy="444.06" r="3.15"/><circle cx="880.85" cy="451.73" r="3.15"/><circle cx="881.72" cy="452.12" r="3.15"/><circle cx="882.6" cy="454.88" r="3.15"/><circle cx="883.47" cy="458.85" r="3.15"/><circle cx="884.35" cy="460.34" r="3.15"/><circle cx="885.22" cy="463.23" r="3.15"/><circle cx="886.1" cy="463.91" r="3.15"/><circle cx="886.97" cy="468.47" r="3.15"/><circle cx="887.85" cy="467.69" r="3.15"/><circle cx="888.72" cy="468.05" r="3.15"/><circle cx="889.6" cy="469.2" r="3.15"/><circle cx="890.47" cy="468.8" r="3.15"/><circle cx="891.35" cy="471.14" r="3.15"/><circle cx="892.22" cy="471.73" r="3.15"/><circle cx="893.1" cy="473.07" r="3.15"/><circle cx="893.97" cy="472" r="3.15"/><circle cx="894.85" cy="475.11" r="3.15"/><circle cx="895.72" cy="476.77" r="3.15"/><circle cx="896.6" cy="475.76" r="3.15"/><circle cx="897.47" cy="476.82" r="3.15"/><circle cx="898.35" cy="477.93" r="3.15"/><circle cx="899.22" cy="476.97" r="3.15"/><circle cx="900.1" cy="477.92" r="3.15"/><circle cx="900.97" cy="479.65" r="3.15"/><circle cx="901.85" cy="479.36" r="3.15"/><circle cx="902.72" cy="478.26" r="3.15"/><circle cx="903.6" cy="478.12" r="3.15"/><circle cx="904.47" cy="482.2" r="3.15"/><circle cx="905.35" cy="482.84" r="3.15"/><circle cx="906.22" cy="481.13" r="3.15"/><circle cx="907.1" cy="483.01" r="3.15"/><circle cx="907.97" cy="483.76" r="3.15"/><circle cx="908.85" cy="483.5" r="3.15"/><circle cx="909.72" cy="481.79" r="3.15"/><circle cx="910.6" cy="485.4" r="3.15"/><circle cx="911.47" cy="484.5" r="3.15"/><circle cx="912.35" cy="483.97" r="3.15"/><circle cx="913.22" cy="484.88" r="3.15"/><circle cx="914.1" cy="484.23" r="3.15"/><circle cx="914.97" cy="484.31" r="3.15"/><circle cx="915.85" cy="485.6" r="3.15"/><circle cx="916.72" cy="483.05" r="3.15"/><circle cx="917.6" cy="485.94" r="3.15"/><circle cx="918.47" cy="485.53" r="3.15"/><circle cx="919.35" cy="486" r="3.15"/><circle cx="920.22" cy="486.2" r="3.15"/><circle cx="921.1" cy="486.92" r="3.15"/><circle cx="921.97" cy="486.94" r="3.15"/><circle cx="922.85" cy="486.54" r="3.15"/><circle cx="923.72" cy="485.43" r="3.15"/><circle cx="924.6" cy="486.52" r="3.15"/><circle cx="925.47" cy="485.55" r="3.15"/><circle cx="926.35" cy="485.21" r="3.15"/><circle cx="927.22" cy="486.55" r="3.15"/><circle cx="928.1" cy="486.56" r="3.15"/><circle cx="928.97" cy="487.41" r="3.15"/><circle cx="929.85" cy="484.44" r="3.15"/><circle cx="930.72" cy="486.99" r="3.15"/><circle cx="931.6" cy="487.14" r="3.15"/><circle cx="932.47" cy="486.71" r="3.15"/><circle cx="933.35" cy="488.04" r="3.15"/><circle cx="934.22" cy="485.93" r="3.15"/><circle cx="935.1" cy="487.11" r="3.15"/><circle cx="935.97" cy="486.54" r="3.15"/><circle cx="936.85" cy="486.94" r="3.15"/><circle cx="937.72" cy="486.11" r="3.15"/><circle cx="938.6" cy="486.94" r="3.15"/><circle cx="939.47" cy="487.75" r="3.15"/><circle cx="940.35" cy="487.31" r="3.15"/><circle cx="941.22" cy="487.55" r="3.15"/><circle cx="942.1" cy="486.6" r="3.15"/><circle cx="942.97" cy="488.81" r="3.15"/><circle cx="943.85" cy="486.77" r="3.15"/><circle cx="944.72" cy="487.45" r="3.15"/><circle cx="945.6" cy="488.02" r="3.15"/><circle cx="946.47" cy="487.36" r="3.15"/><circle cx="947.35" cy="488.27" r="3.15"/><circle cx="948.22" cy="487.77" r="3.15"/><circle cx="949.1" cy="489.2" r="3.15"/><circle cx="949.97" cy="488.19" r="3.15"/><circle cx="950.85" cy="488.09" r="3.15"/><circle cx="951.72" cy="487.01" r="3.15"/><circle cx="952.6" cy="488.21" r="3.15"/><circle cx="953.47" cy="488.74" r="3.15"/><circle cx="954.35" cy="488.24" r="3.15"/><circle cx="955.22" cy="487.03" r="3.15"/><circle cx="956.1" cy="487.42" r="3.15"/><circle cx="956.97" cy="487.74" r="3.15"/><circle cx="957.85" cy="488" r="3.15"/><circle cx="958.72" cy="486.74" r="3.15"/><circle cx="959.6" cy="489.74" r="3.15"/><circle cx="960.47" cy="487.97" r="3.15"/><circle cx="961.35" cy="488.2" r="3.15"/><circle cx="962.22" cy="487.71" r="3.15"/><circle cx="963.1" cy="488.1" r="3.15"/><circle cx="963.97" cy="489.92" r="3.15"/><circle cx="964.85" cy="487.33" r="3.15"/><circle cx="965.72" cy="487.74" r="3.15"/><circle cx="966.6" cy="487.3" r="3.15"/><circle cx="967.47" cy="487.76" r="3.15"/><circle cx="968.35" cy="489.68" r="3.15"/><circle cx="969.22" cy="487.73" r="3.15"/><circle cx="970.1" cy="487.91" r="3.15"/><circle cx="970.97" cy="486.71" r="3.15"/><circle cx="971.85" cy="488.05" r="3.15"/><circle cx="972.72" cy="488.59" r="3.15"/><circle cx="973.6" cy="487.97" r="3.15"/><circle cx="974.47" cy="488.07" r="3.15"/><circle cx="975.35" cy="489.18" r="3.15"/><circle cx="976.22" cy="488.95" r="3.15"/><circle cx="977.1" cy="488.4" r="3.15"/><circle cx="977.97" cy="487.81" r="3.15"/><circle cx="978.85" cy="487.17" r="3.15"/><circle cx="979.72" cy="490.08" r="3.15"/><circle cx="980.6" cy="487.17" r="3.15"/><circle cx="981.47" cy="489.19" r="3.15"/><circle cx="982.35" cy="488.44" r="3.15"/><circle cx="983.22" cy="487.97" r="3.15"/><circle cx="984.1" cy="489.46" r="3.15"/><circle cx="984.97" cy="488.01" r="3.15"/><circle cx="985.85" cy="489.85" r="3.15"/><circle cx="986.72" cy="487.78" r="3.15"/><circle cx="987.6" cy="489.18" r="3.15"/><circle cx="988.47" cy="489.91" r="3.15"/><circle cx="989.35" cy="487.9" r="3.15"/><circle cx="990.22" cy="490.69" r="3.15"/><circle cx="991.1" cy="489.58" r="3.15"/><circle cx="991.97" cy="486.82" r="3.15"/><circle cx="992.85" cy="490.1" r="3.15"/><circle cx="993.72" cy="490.57" r="3.15"/><circle cx="994.6" cy="488.62" r="3.15"/><circle cx="995.47" cy="488.7" r="3.15"/><circle cx="996.35" cy="489.22" r="3.15"/><circle cx="997.22" cy="487.17" r="3.15"/><circle cx="998.1" cy="489.04" r="3.15"/><circle cx="998.97" cy="489.75" r="3.15"/><circle cx="999.85" cy="488.41" r="3.15"/><circle cx="1000.72" cy="489.92" r="3.15"/><circle cx="1001.6" cy="490.92" r="3.15"/><circle cx="1002.47" cy="487.15" r="3.15"/><circle cx="1003.35" cy="487.28" r="3.15"/><circle cx="1004.22" cy="488.28" r="3.15"/><circle cx="1005.1" cy="489.49" r="3.15"/><circle cx="1005.97" cy="489.27" r="3.15"/><circle cx="1006.85" cy="488.09" r="3.15"/><circle cx="1007.72" cy="487.89" r="3.15"/><circle cx="1008.6" cy="488.26" r="3.15"/><circle cx="1009.47" cy="490.46" r="3.15"/><circle cx="1010.35" cy="488.05" r="3.15"/><circle cx="1011.22" cy="488.39" r="3.15"/><circle cx="1012.1" cy="489.78" r="3.15"/><circle cx="1012.97" cy="488.67" r="3.15"/><circle cx="1013.85" cy="488.02" r="3.15"/><circle cx="1014.72" cy="490.21" r="3.15"/><circle cx="1015.6" cy="489.22" r="3.15"/><circle cx="1016.47" cy="488.3" r="3.15"/><circle cx="1017.35" cy="488.57" r="3.15"/><circle cx="1018.22" cy="489.77" r="3.15"/><circle cx="1019.1" cy="488.59" r="3.15"/><circle cx="1019.97" cy="489.16" r="3.15"/><circle cx="1020.85" cy="489.73" r="3.15"/><circle cx="1021.72" cy="489.83" r="3.15"/><circle cx="259" cy="460" r="3.15"/><circle cx="280" cy="462" r="3.15"/><circle cx="302" cy="451" r="3.15"/><circle cx="327" cy="451" r="3.15"/><circle cx="253" cy="484" r="3.15"/><circle cx="296" cy="481" r="3.15"/><circle cx="309" cy="478" r="3.15"/><circle cx="319" cy="477" r="3.15"/><circle cx="346.5" cy="444.1" r="3.15"/><circle cx="346.5" cy="450" r="3.15"/><circle cx="380.4" cy="472.4" r="3.15"/><circle cx="401.3" cy="464.6" r="3.15"/><circle cx="411.3" cy="460.7" r="3.15"/><circle cx="420.3" cy="457.3" r="3.15"/><circle cx="427.2" cy="420.4" r="3.15"/><circle cx="434" cy="452.7" r="3.15"/><circle cx="486.3" cy="398.3" r="3.15"/><circle cx="485.5" cy="404" r="3.15"/><circle cx="487.5" cy="409" r="3.15"/><circle cx="444" cy="420" r="3.15"/><circle cx="442" cy="426" r="3.15"/><circle cx="465.6" cy="414" r="3.15"/><circle cx="474.5" cy="430" r="3.15"/><circle cx="478" cy="438" r="3.15"/><circle cx="469.8" cy="443.8" r="3.15"/><circle cx="488" cy="437" r="3.15"/><circle cx="434.5" cy="452.5" r="3.15"/><circle cx="455.2" cy="447" r="3.15"/><circle cx="457.8" cy="430" r="3.15"/><circle cx="431" cy="430" r="3.15"/><circle cx="502.3" cy="380.8" r="3.15"/><circle cx="504" cy="386" r="3.15"/><circle cx="519.6" cy="350.6" r="3.15"/><circle cx="520.5" cy="368.6" r="3.15"/><circle cx="521.5" cy="376.7" r="3.15"/><circle cx="522" cy="386" r="3.15"/><circle cx="523" cy="401" r="3.15"/><circle cx="524" cy="418.5" r="3.15"/><circle cx="525" cy="436" r="3.15"/><circle cx="511" cy="358" r="3.15"/><circle cx="509.5" cy="366" r="3.15"/><circle cx="507.5" cy="403.5" r="3.15"/><circle cx="500.5" cy="411" r="3.15"/><circle cx="499.5" cy="421" r="3.15"/><circle cx="498.5" cy="427.5" r="3.15"/><circle cx="489" cy="436" r="3.15"/><circle cx="527" cy="453" r="3.15"/><circle cx="534.8" cy="437.5" r="3.15"/><circle cx="540.5" cy="445" r="3.15"/><circle cx="541" cy="456" r="3.15"/><circle cx="545" cy="472" r="3.15"/><circle cx="553.6" cy="437.5" r="3.15"/><circle cx="558" cy="448" r="3.15"/><circle cx="562.5" cy="472.5" r="3.15"/><circle cx="574.3" cy="440.4" r="3.15"/><circle cx="606.8" cy="462.3" r="3.15"/><circle cx="623" cy="459.4" r="3.15"/><circle cx="637.5" cy="456.8" r="3.15"/><circle cx="651.5" cy="452.1" r="3.15"/><circle cx="665" cy="444" r="3.15"/><circle cx="670.4" cy="398.2" r="3.15"/><circle cx="682.7" cy="395.5" r="3.15"/><circle cx="695.2" cy="388.8" r="3.15"/><circle cx="707" cy="373.4" r="3.15"/><circle cx="707.9" cy="377" r="3.15"/><circle cx="718.7" cy="380.8" r="3.15"/><circle cx="729.9" cy="370.7" r="3.15"/><circle cx="729.4" cy="377.7" r="3.15"/><circle cx="739.7" cy="362.4" r="3.15"/><circle cx="705" cy="393" r="3.15"/><circle cx="720" cy="397" r="3.15"/><circle cx="675" cy="433" r="3.15"/><circle cx="685.8" cy="437.5" r="3.15"/><circle cx="692" cy="436.5" r="3.15"/><circle cx="713" cy="427" r="3.15"/><circle cx="724.8" cy="425.4" r="3.15"/><circle cx="736" cy="422.6" r="3.15"/><circle cx="735.5" cy="416" r="3.15"/><circle cx="760.1" cy="329.7" r="3.15"/><circle cx="770.1" cy="334.8" r="3.15"/><circle cx="779.5" cy="338.7" r="3.15"/><circle cx="778.5" cy="332" r="3.15"/><circle cx="750.6" cy="338.7" r="3.15"/><circle cx="761" cy="343.8" r="3.15"/><circle cx="769.2" cy="342.5" r="3.15"/><circle cx="749.7" cy="352.7" r="3.15"/><circle cx="759.6" cy="353.5" r="3.15"/><circle cx="771" cy="352" r="3.15"/><circle cx="751.5" cy="357.2" r="3.15"/><circle cx="741" cy="360" r="3.15"/><circle cx="777.5" cy="359.5" r="3.15"/><circle cx="746" cy="409.3" r="3.15"/><circle cx="747.5" cy="415" r="3.15"/><circle cx="757" cy="411" r="3.15"/><circle cx="766.8" cy="412.5" r="3.15"/><circle cx="776.2" cy="400.5" r="3.15"/><circle cx="765.9" cy="397" r="3.15"/><circle cx="775.6" cy="393" r="3.15"/><circle cx="777.2" cy="385" r="3.15"/><circle cx="785" cy="385.5" r="3.15"/><circle cx="760" cy="400" r="3.15"/><circle cx="840.3" cy="292.2" r="3.15"/><circle cx="828.7" cy="303.4" r="3.15"/><circle cx="815.3" cy="311.9" r="3.15"/><circle cx="835" cy="310.5" r="3.15"/><circle cx="829.5" cy="313.5" r="3.15"/><circle cx="845" cy="300" r="3.15"/><circle cx="822.5" cy="320" r="3.15"/><circle cx="818.2" cy="323.5" r="3.15"/><circle cx="836" cy="321" r="3.15"/><circle cx="808.2" cy="328" r="3.15"/><circle cx="827.5" cy="326" r="3.15"/><circle cx="823" cy="330" r="3.15"/><circle cx="815" cy="334" r="3.15"/><circle cx="841.3" cy="337.6" r="3.15"/><circle cx="847" cy="328" r="3.15"/><circle cx="800.8" cy="341.8" r="3.15"/><circle cx="809" cy="340" r="3.15"/><circle cx="837.5" cy="347" r="3.15"/><circle cx="832" cy="343" r="3.15"/><circle cx="818.2" cy="355.6" r="3.15"/><circle cx="825.3" cy="356.1" r="3.15"/><circle cx="811.6" cy="360.3" r="3.15"/><circle cx="803" cy="366.8" r="3.15"/><circle cx="792.5" cy="373" r="3.15"/><circle cx="797" cy="362" r="3.15"/><circle cx="863.3" cy="56.8" r="3.15"/><circle cx="864.6" cy="112.6" r="3.15"/><circle cx="862.4" cy="143.8" r="3.15"/><circle cx="861" cy="159.5" r="3.15"/><circle cx="861" cy="188.5" r="3.15"/><circle cx="859.3" cy="208.6" r="3.15"/><circle cx="858" cy="217.5" r="3.15"/><circle cx="854.8" cy="233" r="3.15"/><circle cx="853.5" cy="249.6" r="3.15"/><circle cx="855.7" cy="257.7" r="3.15"/><circle cx="851.2" cy="273.3" r="3.15"/><circle cx="851.2" cy="284.5" r="3.15"/><circle cx="849" cy="297.9" r="3.15"/><circle cx="866.9" cy="117" r="3.15"/><circle cx="866.9" cy="126" r="3.15"/><circle cx="869" cy="152.8" r="3.15"/><circle cx="870" cy="206.3" r="3.15"/><circle cx="871.3" cy="253.2" r="3.15"/><circle cx="872.7" cy="313.5" r="3.15"/><circle cx="873.2" cy="373.6" r="3.15"/><circle cx="872.9" cy="409.5" r="3.15"/><circle cx="873.8" cy="428.6" r="3.15"/><circle cx="875" cy="437.5" r="3.15"/><circle cx="875.3" cy="420" r="3.15"/><circle cx="840.5" cy="292.4" r="3.15"/><circle cx="849.5" cy="305" r="3.15"/><circle cx="835" cy="310.5" r="3.15"/><circle cx="842" cy="313" r="3.15"/><circle cx="848" cy="318" r="3.15"/><circle cx="841.3" cy="320" r="3.15"/><circle cx="834" cy="323" r="3.15"/><circle cx="847" cy="324" r="3.15"/><circle cx="865.5" cy="44.6" r="3.15"/></g>
<g clip-path="url(#ax)">
<path d="M150.0,474.00 L150.5,474.63 L151.0,475.22 L151.5,475.78 L152.0,476.29 L152.5,476.76 L153.0,477.18 L153.5,477.54 L154.0,477.84 L154.5,478.06 L155.0,478.22 L155.5,478.29 L156.0,478.30 L156.5,478.27 L157.0,478.23 L157.5,478.18 L158.0,478.11 L158.5,478.02 L159.0,477.93 L159.5,477.82 L160.0,477.61 L160.5,477.10 L161.0,476.37 L161.5,475.45 L162.0,474.43 L162.5,473.34 L163.0,472.26 L163.5,471.25 L164.0,470.35 L164.5,469.64 L165.0,469.17 L165.5,469.00 L166.0,469.12 L166.5,469.45 L167.0,469.93 L167.5,470.53 L168.0,471.18 L168.5,471.84 L169.0,472.46 L169.5,473.00 L170.0,473.56 L170.5,474.19 L171.0,474.85 L171.5,475.51 L172.0,476.15 L172.5,476.72 L173.0,477.20 L173.5,477.56 L174.0,477.76 L174.5,477.79 L175.0,477.71 L175.5,477.56 L176.0,477.34 L176.5,477.06 L177.0,476.75 L177.5,476.40 L178.0,476.05 L178.5,475.63 L179.0,474.95 L179.5,474.06 L180.0,473.05 L180.5,471.98 L181.0,470.93 L181.5,469.98 L182.0,469.21 L182.5,468.69 L183.0,468.50 L183.5,468.50 L184.0,468.50 L184.5,468.50 L185.0,468.50 L185.5,468.50 L186.0,468.50 L186.5,468.50 L187.0,468.50 L187.5,468.50 L188.0,468.50 L188.5,468.52 L189.0,468.56 L189.5,468.63 L190.0,468.70 L190.5,468.77 L191.0,468.85 L191.5,468.91 L192.0,468.96 L192.5,468.99 L193.0,468.97 L193.5,468.64 L194.0,468.02 L194.5,467.17 L195.0,466.17 L195.5,465.10 L196.0,464.03 L196.5,463.03 L197.0,462.18 L197.5,461.56 L198.0,461.23 L198.5,461.28 L199.0,461.76 L199.5,462.56 L200.0,463.58 L200.5,464.71 L201.0,465.86 L201.5,466.91 L202.0,467.90 L202.5,469.05 L203.0,470.31 L203.5,471.64 L204.0,472.98 L204.5,474.29 L205.0,475.53 L205.5,476.63 L206.0,477.56 L206.5,478.26 L207.0,478.69 L207.5,478.79 L208.0,478.61 L208.5,478.20 L209.0,477.60 L209.5,476.85 L210.0,475.99 L210.5,475.07 L211.0,474.11 L211.5,473.17 L212.0,472.28 L212.5,471.48 L213.0,470.82 L213.5,470.33 L214.0,470.05 L214.5,470.02 L215.0,470.18 L215.5,470.49 L216.0,470.94 L216.5,471.48 L217.0,472.10 L217.5,472.77 L218.0,473.45 L218.5,474.13 L219.0,474.78 L219.5,475.45 L220.0,476.27 L220.5,477.21 L221.0,478.20 L221.5,479.19 L222.0,480.13 L222.5,480.95 L223.0,481.61 L223.5,482.04 L224.0,482.20 L224.5,482.08 L225.0,481.74 L225.5,481.21 L226.0,480.53 L226.5,479.73 L227.0,478.83 L227.5,477.88 L228.0,476.90 L228.5,475.93 L229.0,475.00 L229.5,474.14 L230.0,473.38 L230.5,472.76 L231.0,472.30 L231.5,472.04 L232.0,472.00 L232.5,472.06 L233.0,472.16 L233.5,472.31 L234.0,472.50 L234.5,472.72 L235.0,472.96 L235.5,473.23 L236.0,473.50 L236.5,473.79 L237.0,474.11 L237.5,474.61 L238.0,475.24 L238.5,475.92 L239.0,476.59 L239.5,477.17 L240.0,477.60 L240.5,477.79 L241.0,477.71 L241.5,477.37 L242.0,476.83 L242.5,476.16 L243.0,475.40 L243.5,474.60 L244.0,473.84 L244.5,473.17 L245.0,472.63 L245.5,472.29 L246.0,472.20 L246.5,472.34 L247.0,472.64 L247.5,473.08 L248.0,473.63 L248.5,474.26 L249.0,474.93 L249.5,475.63 L250.0,476.31 L250.5,476.95 L251.0,477.52 L251.5,477.98 L252.0,478.31 L252.5,478.48 L253.0,478.44 L253.5,478.06 L254.0,477.40 L254.5,476.50 L255.0,475.42 L255.5,474.20 L256.0,472.89 L256.5,471.55 L257.0,470.22 L257.5,468.96 L258.0,467.81 L258.5,466.83 L259.0,466.07 L259.5,465.58 L260.0,465.40 L260.5,465.61 L261.0,466.18 L261.5,467.01 L262.0,467.99 L262.5,469.03 L263.0,470.01 L263.5,470.86 L264.0,471.72 L264.5,472.67 L265.0,473.68 L265.5,474.70 L266.0,475.70 L266.5,476.64 L267.0,477.47 L267.5,478.16 L268.0,478.66 L268.5,478.95 L269.0,478.97 L269.5,478.68 L270.0,478.12 L270.5,477.32 L271.0,476.34 L271.5,475.23 L272.0,474.02 L272.5,472.77 L273.0,471.53 L273.5,470.34 L274.0,469.25 L274.5,468.30 L275.0,467.55 L275.5,467.03 L276.0,466.81 L276.5,466.81 L277.0,466.87 L277.5,466.96 L278.0,467.09 L278.5,467.24 L279.0,467.41 L279.5,467.60 L280.0,467.80 L280.5,468.12 L281.0,468.64 L281.5,469.30 L282.0,470.05 L282.5,470.83 L283.0,471.58 L283.5,472.25 L284.0,472.78 L284.5,473.11 L285.0,473.19 L285.5,472.98 L286.0,472.51 L286.5,471.85 L287.0,471.07 L287.5,470.25 L288.0,469.45 L288.5,468.74 L289.0,468.18 L289.5,467.86 L290.0,467.83 L290.5,468.11 L291.0,468.66 L291.5,469.42 L292.0,470.32 L292.5,471.30 L293.0,472.30 L293.5,473.27 L294.0,474.15 L294.5,474.86 L295.0,475.37 L295.5,475.59 L296.0,475.46 L296.5,474.92 L297.0,474.03 L297.5,472.84 L298.0,471.42 L298.5,469.83 L299.0,468.12 L299.5,466.35 L300.0,464.58 L300.5,462.87 L301.0,461.28 L301.5,459.86 L302.0,458.67 L302.5,457.78 L303.0,457.24 L303.5,457.11 L304.0,457.50 L304.5,458.36 L305.0,459.62 L305.5,461.19 L306.0,462.98 L306.5,464.91 L307.0,466.89 L307.5,468.84 L308.0,470.67 L308.5,472.29 L309.0,473.62 L309.5,474.57 L310.0,475.05 L310.5,475.04 L311.0,474.66 L311.5,474.01 L312.0,473.13 L312.5,472.07 L313.0,470.88 L313.5,469.63 L314.0,468.36 L314.5,467.13 L315.0,465.99 L315.5,465.00 L316.0,464.20 L316.5,463.65 L317.0,463.41 L317.5,463.51 L318.0,463.93 L318.5,464.55 L319.0,465.28 L319.5,466.01 L320.0,466.66 L320.5,467.12 L321.0,467.30 L321.5,467.16 L322.0,466.79 L322.5,466.20 L323.0,465.46 L323.5,464.61 L324.0,463.67 L324.5,462.71 L325.0,461.75 L325.5,460.84 L326.0,460.02 L326.5,459.34 L327.0,458.84 L327.5,458.55 L328.0,458.54 L328.5,458.92 L329.0,459.67 L329.5,460.72 L330.0,462.00 L330.5,463.44 L331.0,464.97 L331.5,466.54 L332.0,468.06 L332.5,469.47 L333.0,470.71 L333.5,471.71 L334.0,472.39 L334.5,472.69 L335.0,472.58 L335.5,472.10 L336.0,471.32 L336.5,470.28 L337.0,469.02 L337.5,467.60 L338.0,466.06 L338.5,464.45 L339.0,462.82 L339.5,461.23 L340.0,459.71 L340.5,458.32 L341.0,457.10 L341.5,456.10 L342.0,455.38 L342.5,454.97 L343.0,454.92 L343.5,455.15 L344.0,455.58 L344.5,456.20 L345.0,456.94 L345.5,457.79 L346.0,458.68 L346.5,459.60 L347.0,460.49 L347.5,461.31 L348.0,462.04 L348.5,462.62 L349.0,463.02 L349.5,463.19 L350.0,463.01 L350.5,462.35 L351.0,461.39 L351.5,460.32 L352.0,459.32 L352.5,458.59 L353.0,458.30 L353.5,458.49 L354.0,459.01 L354.5,459.80 L355.0,460.78 L355.5,461.89 L356.0,463.07 L356.5,464.24 L357.0,465.33 L357.5,466.28 L358.0,467.02 L358.5,467.48 L359.0,467.59 L359.5,467.11 L360.0,466.02 L360.5,464.45 L361.0,462.49 L361.5,460.25 L362.0,457.84 L362.5,455.36 L363.0,452.92 L363.5,450.64 L364.0,448.62 L364.5,446.95 L365.0,445.77 L365.5,445.16 L366.0,445.24 L366.5,446.01 L367.0,447.35 L367.5,449.13 L368.0,451.21 L368.5,453.46 L369.0,455.75 L369.5,457.95 L370.0,459.93 L370.5,461.55 L371.0,462.68 L371.5,463.18 L372.0,463.04 L372.5,462.46 L373.0,461.55 L373.5,460.42 L374.0,459.18 L374.5,457.92 L375.0,456.76 L375.5,455.80 L376.0,455.14 L376.5,454.90 L377.0,455.18 L377.5,455.93 L378.0,457.00 L378.5,458.27 L379.0,459.59 L379.5,460.83 L380.0,461.85 L380.5,462.52 L381.0,462.68 L381.5,462.00 L382.0,460.49 L382.5,458.34 L383.0,455.72 L383.5,452.81 L384.0,449.79 L384.5,446.85 L385.0,444.15 L385.5,441.89 L386.0,440.24 L386.5,439.38 L387.0,439.46 L387.5,440.35 L388.0,441.90 L388.5,443.95 L389.0,446.35 L389.5,448.95 L390.0,451.60 L390.5,454.14 L391.0,456.42 L391.5,458.29 L392.0,459.60 L392.5,460.18 L393.0,459.99 L393.5,459.20 L394.0,458.00 L394.5,456.54 L395.0,454.97 L395.5,453.48 L396.0,452.21 L396.5,451.33 L397.0,451.00 L397.5,451.18 L398.0,451.65 L398.5,452.35 L399.0,453.18 L399.5,454.08 L400.0,454.96 L400.5,455.75 L401.0,456.37 L401.5,456.73 L402.0,456.71 L402.5,455.72 L403.0,453.85 L403.5,451.30 L404.0,448.31 L404.5,445.10 L405.0,441.89 L405.5,438.90 L406.0,436.35 L406.5,434.48 L407.0,433.49 L407.5,433.59 L408.0,434.68 L408.5,436.54 L409.0,438.97 L409.5,441.78 L410.0,444.75 L410.5,447.67 L411.0,450.36 L411.5,452.59 L412.0,454.16 L412.5,454.88 L413.0,454.73 L413.5,454.11 L414.0,453.15 L414.5,451.99 L415.0,450.75 L415.5,449.57 L416.0,448.56 L416.5,447.86 L417.0,447.60 L417.5,447.84 L418.0,448.47 L418.5,449.35 L419.0,450.35 L419.5,451.34 L420.0,452.18 L420.5,452.74 L421.0,452.88 L421.5,452.07 L422.0,450.29 L422.5,447.79 L423.0,444.79 L423.5,441.53 L424.0,438.25 L424.5,435.18 L425.0,432.56 L425.5,430.62 L426.0,429.60 L426.5,429.70 L427.0,430.78 L427.5,432.59 L428.0,434.88 L428.5,437.39 L429.0,439.86 L429.5,442.05 L430.0,443.70 L430.5,444.55 L431.0,444.71 L431.5,444.80 L432.0,444.87 L432.5,444.92 L433.0,444.98 L433.5,445.05 L434.0,445.15 L434.5,445.33 L435.0,445.71 L435.5,446.27 L436.0,446.93 L436.5,447.64 L437.0,448.34 L437.5,448.98 L438.0,449.49 L438.5,449.81 L439.0,449.89 L439.5,449.44 L440.0,448.44 L440.5,446.98 L441.0,445.17 L441.5,443.10 L442.0,440.88 L442.5,438.62 L443.0,436.40 L443.5,434.33 L444.0,432.52 L444.5,431.06 L445.0,430.06 L445.5,429.61 L446.0,429.70 L446.5,430.08 L447.0,430.71 L447.5,431.56 L448.0,432.59 L448.5,433.76 L449.0,435.05 L449.5,436.41 L450.0,437.81 L450.5,439.21 L451.0,440.58 L451.5,441.89 L452.0,443.09 L452.5,444.15 L453.0,445.04 L453.5,445.71 L454.0,446.15 L454.5,446.30 L455.0,445.96 L455.5,445.05 L456.0,443.76 L456.5,442.27 L457.0,440.79 L457.5,439.47 L458.0,438.53 L458.5,437.99 L459.0,437.60 L459.5,437.30 L460.0,437.00 L460.5,436.65 L461.0,436.17 L461.5,435.40 L462.0,433.43 L462.5,430.48 L463.0,427.04 L463.5,423.59 L464.0,420.63 L464.5,418.65 L465.0,418.11 L465.5,418.37 L466.0,418.98 L466.5,419.88 L467.0,421.04 L467.5,422.41 L468.0,423.94 L468.5,425.59 L469.0,427.32 L469.5,429.08 L470.0,430.82 L470.5,432.51 L471.0,434.10 L471.5,435.53 L472.0,436.78 L472.5,437.79 L473.0,438.52 L473.5,438.93 L474.0,438.96 L474.5,438.58 L475.0,437.82 L475.5,436.72 L476.0,435.33 L476.5,433.70 L477.0,431.87 L477.5,429.90 L478.0,427.83 L478.5,425.71 L479.0,423.59 L479.5,421.50 L480.0,419.51 L480.5,417.65 L481.0,415.98 L481.5,414.54 L482.0,413.38 L482.5,412.54 L483.0,412.08 L483.5,412.05 L484.0,412.53 L484.5,413.49 L485.0,414.83 L485.5,416.48 L486.0,418.35 L486.5,420.36 L487.0,422.42 L487.5,424.46 L488.0,426.40 L488.5,428.14 L489.0,429.61 L489.5,430.74 L490.0,431.42 L490.5,431.59 L491.0,431.17 L491.5,430.24 L492.0,428.87 L492.5,427.14 L493.0,425.15 L493.5,422.98 L494.0,420.71 L494.5,418.43 L495.0,416.23 L495.5,414.18 L496.0,412.16 L496.5,409.79 L497.0,407.17 L497.5,404.39 L498.0,401.57 L498.5,398.81 L499.0,396.22 L499.5,393.89 L500.0,391.93 L500.5,390.44 L501.0,389.54 L501.5,389.31 L502.0,389.72 L502.5,390.60 L503.0,391.81 L503.5,393.21 L504.0,394.68 L504.5,396.05 L505.0,397.21 L505.5,398.00 L506.0,398.30 L506.5,397.81 L507.0,396.43 L507.5,394.34 L508.0,391.70 L508.5,388.67 L509.0,385.43 L509.5,382.12 L510.0,378.92 L510.5,376.00 L511.0,372.93 L511.5,369.32 L512.0,365.37 L512.5,361.29 L513.0,357.28 L513.5,353.55 L514.0,350.29 L514.5,347.71 L515.0,346.01 L515.5,345.40 L516.0,346.86 L516.5,350.65 L517.0,355.90 L517.5,361.74 L518.0,367.30 L518.5,372.20 L519.0,377.15 L519.5,382.29 L520.0,387.72 L520.5,393.57 L521.0,399.95 L521.5,407.69 L522.0,416.86 L522.5,424.80 L523.0,431.16 L523.5,437.24 L524.0,442.83 L524.5,447.72 L525.0,451.68 L525.5,454.50 L526.0,456.64 L526.5,458.62 L527.0,460.34 L527.5,461.69 L528.0,462.58 L528.5,462.90 L529.0,462.63 L529.5,461.85 L530.0,460.65 L530.5,459.10 L531.0,457.28 L531.5,455.25 L532.0,453.09 L532.5,450.89 L533.0,448.70 L533.5,446.62 L534.0,444.70 L534.5,443.03 L535.0,441.68 L535.5,440.73 L536.0,440.25 L536.5,440.31 L537.0,440.95 L537.5,442.09 L538.0,443.65 L538.5,445.57 L539.0,447.77 L539.5,450.17 L540.0,452.70 L540.5,455.27 L541.0,457.83 L541.5,460.29 L542.0,462.58 L542.5,464.62 L543.0,466.34 L543.5,467.65 L544.0,468.50 L544.5,468.80 L545.0,468.53 L545.5,467.78 L546.0,466.59 L546.5,465.04 L547.0,463.18 L547.5,461.07 L548.0,458.78 L548.5,456.37 L549.0,453.90 L549.5,451.43 L550.0,449.02 L550.5,446.73 L551.0,444.62 L551.5,442.76 L552.0,441.21 L552.5,440.02 L553.0,439.27 L553.5,439.00 L554.0,439.34 L554.5,440.29 L555.0,441.77 L555.5,443.69 L556.0,445.94 L556.5,448.44 L557.0,451.10 L557.5,453.82 L558.0,456.51 L558.5,459.09 L559.0,461.45 L559.5,463.51 L560.0,465.17 L560.5,466.35 L561.0,466.94 L561.5,466.88 L562.0,466.19 L562.5,464.96 L563.0,463.27 L563.5,461.20 L564.0,458.82 L564.5,456.23 L565.0,453.50 L565.5,450.71 L566.0,447.95 L566.5,445.29 L567.0,442.82 L567.5,440.62 L568.0,438.76 L568.5,437.34 L569.0,436.42 L569.5,436.10 L570.0,436.44 L570.5,437.41 L571.0,438.91 L571.5,440.86 L572.0,443.15 L572.5,445.70 L573.0,448.42 L573.5,451.21 L574.0,453.98 L574.5,456.64 L575.0,459.10 L575.5,461.27 L576.0,463.04 L576.5,464.34 L577.0,465.07 L577.5,465.14 L578.0,464.51 L578.5,463.25 L579.0,461.46 L579.5,459.24 L580.0,456.67 L580.5,453.85 L581.0,450.88 L581.5,447.84 L582.0,444.82 L582.5,441.93 L583.0,439.25 L583.5,436.88 L584.0,434.91 L584.5,433.43 L585.0,432.53 L585.5,432.32 L586.0,433.00 L586.5,434.53 L587.0,436.75 L587.5,439.53 L588.0,442.69 L588.5,446.10 L589.0,449.60 L589.5,453.04 L590.0,456.27 L590.5,459.13 L591.0,461.48 L591.5,463.16 L592.0,464.02 L592.5,463.98 L593.0,463.25 L593.5,461.95 L594.0,460.14 L594.5,457.92 L595.0,455.37 L595.5,452.55 L596.0,449.56 L596.5,446.47 L597.0,443.37 L597.5,440.33 L598.0,437.43 L598.5,434.76 L599.0,432.40 L599.5,430.42 L600.0,428.91 L600.5,427.94 L601.0,427.60 L601.5,428.19 L602.0,429.82 L602.5,432.29 L603.0,435.42 L603.5,439.00 L604.0,442.83 L604.5,446.72 L605.0,450.48 L605.5,453.90 L606.0,456.79 L606.5,458.95 L607.0,460.18 L607.5,460.34 L608.0,459.73 L608.5,458.52 L609.0,456.79 L609.5,454.62 L610.0,452.09 L610.5,449.28 L611.0,446.28 L611.5,443.16 L612.0,440.01 L612.5,436.91 L613.0,433.94 L613.5,431.18 L614.0,428.72 L614.5,426.62 L615.0,424.99 L615.5,423.89 L616.0,423.41 L616.5,423.79 L617.0,425.25 L617.5,427.62 L618.0,430.68 L618.5,434.25 L619.0,438.12 L619.5,442.08 L620.0,445.95 L620.5,449.52 L621.0,452.58 L621.5,454.95 L622.0,456.41 L622.5,456.78 L623.0,456.24 L623.5,455.00 L624.0,453.16 L624.5,450.81 L625.0,448.07 L625.5,445.01 L626.0,441.76 L626.5,438.39 L627.0,435.01 L627.5,431.72 L628.0,428.62 L628.5,425.81 L629.0,423.38 L629.5,421.42 L630.0,420.06 L630.5,419.36 L631.0,419.49 L631.5,420.59 L632.0,422.53 L632.5,425.15 L633.0,428.28 L633.5,431.77 L634.0,435.45 L634.5,439.17 L635.0,442.75 L635.5,446.05 L636.0,448.89 L636.5,451.12 L637.0,452.58 L637.5,453.10 L638.0,452.58 L638.5,451.13 L639.0,448.89 L639.5,446.01 L640.0,442.65 L640.5,438.94 L641.0,435.04 L641.5,431.09 L642.0,427.25 L642.5,423.66 L643.0,420.47 L643.5,417.83 L644.0,415.89 L644.5,414.79 L645.0,414.69 L645.5,415.62 L646.0,417.44 L646.5,419.98 L647.0,423.07 L647.5,426.56 L648.0,430.28 L648.5,434.07 L649.0,437.76 L649.5,441.18 L650.0,444.18 L650.5,446.59 L651.0,448.24 L651.5,448.98 L652.0,448.66 L652.5,447.34 L653.0,445.19 L653.5,442.35 L654.0,438.97 L654.5,435.22 L655.0,431.23 L655.5,427.17 L656.0,423.18 L656.5,419.43 L657.0,416.05 L657.5,413.21 L658.0,411.06 L658.5,409.74 L659.0,409.42 L659.5,410.18 L660.0,411.88 L660.5,414.35 L661.0,417.42 L661.5,420.92 L662.0,424.68 L662.5,428.52 L663.0,432.28 L663.5,435.78 L664.0,438.85 L664.5,441.32 L665.0,443.02 L665.5,443.78 L666.0,443.41 L666.5,441.93 L667.0,439.51 L667.5,436.35 L668.0,432.63 L668.5,428.53 L669.0,424.25 L669.5,419.97 L670.0,415.87 L670.5,412.15 L671.0,408.99 L671.5,406.57 L672.0,405.09 L672.5,404.73 L673.0,405.68 L673.5,407.81 L674.0,410.86 L674.5,414.59 L675.0,418.76 L675.5,423.13 L676.0,427.44 L676.5,431.47 L677.0,434.96 L677.5,437.67 L678.0,439.35 L678.5,439.77 L679.0,438.90 L679.5,436.95 L680.0,434.10 L680.5,430.57 L681.0,426.54 L681.5,422.21 L682.0,417.79 L682.5,413.46 L683.0,409.43 L683.5,405.90 L684.0,403.05 L684.5,401.10 L685.0,400.23 L685.5,400.64 L686.0,402.28 L686.5,404.92 L687.0,408.32 L687.5,412.24 L688.0,416.45 L688.5,420.70 L689.0,424.76 L689.5,428.40 L690.0,431.37 L690.5,433.44 L691.0,434.37 L691.5,434.00 L692.0,432.48 L692.5,430.01 L693.0,426.79 L693.5,423.00 L694.0,418.85 L694.5,414.51 L695.0,410.20 L695.5,406.11 L696.0,402.41 L696.5,399.33 L697.0,397.03 L697.5,395.73 L698.0,395.61 L698.5,396.72 L699.0,398.88 L699.5,401.86 L700.0,405.43 L700.5,409.38 L701.0,413.48 L701.5,417.52 L702.0,421.27 L702.5,424.52 L703.0,427.03 L703.5,428.59 L704.0,428.97 L704.5,427.93 L705.0,425.62 L705.5,422.30 L706.0,418.24 L706.5,413.70 L707.0,408.95 L707.5,404.25 L708.0,399.87 L708.5,396.07 L709.0,393.12 L709.5,391.29 L710.0,390.83 L710.5,391.90 L711.0,394.26 L711.5,397.61 L712.0,401.62 L712.5,406.01 L713.0,410.45 L713.5,414.65 L714.0,418.30 L714.5,421.09 L715.0,422.71 L715.5,422.88 L716.0,421.61 L716.5,419.16 L717.0,415.79 L717.5,411.76 L718.0,407.31 L718.5,402.71 L719.0,398.21 L719.5,394.07 L720.0,390.55 L720.5,387.89 L721.0,386.37 L721.5,386.22 L722.0,387.52 L722.5,390.00 L723.0,393.36 L723.5,397.31 L724.0,401.55 L724.5,405.79 L725.0,409.74 L725.5,413.10 L726.0,415.58 L726.5,416.88 L727.0,416.74 L727.5,415.24 L728.0,412.64 L728.5,409.18 L729.0,405.12 L729.5,400.71 L730.0,396.19 L730.5,391.83 L731.0,387.87 L731.5,384.56 L732.0,382.16 L732.5,380.92 L733.0,381.06 L733.5,382.55 L734.0,385.11 L734.5,388.45 L735.0,392.30 L735.5,396.37 L736.0,400.39 L736.5,404.07 L737.0,407.13 L737.5,409.29 L738.0,410.27 L738.5,409.70 L739.0,407.47 L739.5,403.96 L740.0,399.57 L740.5,394.66 L741.0,389.64 L741.5,384.89 L742.0,380.80 L742.5,377.76 L743.0,376.15 L743.5,376.40 L744.0,378.59 L744.5,382.23 L745.0,386.74 L745.5,391.59 L746.0,396.22 L746.5,400.08 L747.0,402.60 L747.5,403.27 L748.0,402.40 L748.5,400.47 L749.0,397.69 L749.5,394.28 L750.0,390.48 L750.5,386.50 L751.0,382.56 L751.5,378.89 L752.0,375.71 L752.5,373.24 L753.0,371.71 L753.5,371.34 L754.0,372.53 L754.5,375.10 L755.0,378.62 L755.5,382.69 L756.0,386.88 L756.5,390.78 L757.0,393.97 L757.5,396.04 L758.0,396.57 L758.5,395.48 L759.0,393.08 L759.5,389.71 L760.0,385.69 L760.5,381.35 L761.0,377.01 L761.5,372.99 L762.0,369.62 L762.5,367.22 L763.0,366.13 L763.5,366.64 L764.0,368.60 L764.5,371.63 L765.0,375.30 L765.5,379.22 L766.0,382.98 L766.5,386.16 L767.0,388.37 L767.5,389.20 L768.0,388.49 L768.5,386.54 L769.0,383.66 L769.5,380.13 L770.0,376.24 L770.5,372.30 L771.0,368.60 L771.5,365.42 L772.0,363.06 L772.5,361.82 L773.0,361.97 L773.5,363.44 L774.0,365.90 L774.5,369.02 L775.0,372.45 L775.5,375.84 L776.0,378.85 L776.5,381.15 L777.0,382.38 L777.5,382.26 L778.0,380.89 L778.5,378.55 L779.0,375.50 L779.5,372.03 L780.0,368.39 L780.5,364.86 L781.0,361.71 L781.5,359.21 L782.0,357.63 L782.5,357.24 L783.0,358.51 L783.5,361.15 L784.0,364.63 L784.5,368.37 L785.0,371.85 L785.5,374.49 L786.0,375.76 L786.5,375.42 L787.0,374.03 L787.5,371.82 L788.0,369.04 L788.5,365.93 L789.0,362.73 L789.5,359.67 L790.0,356.98 L790.5,354.92 L791.0,353.71 L791.5,353.78 L792.0,356.44 L792.5,360.65 L793.0,364.86 L793.5,367.52 L794.0,367.47 L794.5,365.66 L795.0,362.75 L795.5,359.26 L796.0,355.72 L796.5,352.65 L797.0,350.58 L797.5,350.02 L798.0,350.74 L798.5,352.25 L799.0,354.25 L799.5,356.42 L800.0,358.48 L800.5,360.11 L801.0,361.01 L801.5,360.81 L802.0,359.26 L802.5,356.74 L803.0,353.68 L803.5,350.55 L804.0,347.76 L804.5,345.76 L805.0,345.00 L805.5,345.78 L806.0,347.70 L806.5,350.07 L807.0,352.25 L807.5,353.56 L808.0,353.57 L808.5,352.82 L809.0,351.57 L809.5,349.96 L810.0,348.18 L810.5,346.38 L811.0,344.73 L811.5,343.39 L812.0,342.53 L812.5,342.31 L813.0,342.71 L813.5,343.54 L814.0,344.66 L814.5,345.90 L815.0,347.11 L815.5,348.14 L816.0,348.81 L816.5,348.98 L817.0,348.35 L817.5,347.02 L818.0,345.23 L818.5,343.25 L819.0,341.31 L819.5,339.68 L820.0,338.60 L820.5,338.31 L821.0,338.71 L821.5,339.52 L822.0,340.54 L822.5,341.59 L823.0,342.46 L823.5,342.95 L824.0,342.81 L824.5,341.78 L825.0,340.16 L825.5,338.27 L826.0,336.44 L826.5,335.02 L827.0,334.32 L827.5,334.41 L828.0,334.79 L828.5,335.35 L829.0,335.95 L829.5,336.51 L830.0,336.89 L830.5,336.98 L831.0,336.24 L831.5,334.82 L832.0,333.18 L832.5,331.76 L833.0,331.02 L833.5,331.02 L834.0,331.10 L834.5,331.22 L835.0,331.35 L835.5,331.47 L836.0,331.56 L836.5,331.60 L837.0,331.39 L837.5,330.82 L838.0,329.98 L838.5,328.97 L839.0,327.88 L839.5,326.80 L840.0,325.82 L840.5,324.86 L841.0,323.87 L841.5,322.82 L842.0,321.66 L842.5,320.35 L843.0,318.86 L843.5,317.07 L844.0,314.72 L844.5,311.92 L845.0,308.81 L845.5,305.36 L846.0,301.23 L846.5,296.80 L847.0,292.05 L847.5,287.09 L848.0,282.55 L848.5,278.42 L849.0,274.61 L849.5,271.14 L850.0,267.83 L850.5,264.79 L851.0,262.23 L851.5,260.29 L852.0,258.79 L852.5,257.55 L853.0,256.39 L853.5,255.11 L854.0,253.54 L854.5,251.48 L855.0,248.43 L855.5,243.85 L856.0,238.19 L856.5,231.79 L857.0,223.00 L857.5,216.80 L858.0,212.29 L858.5,205.73 L859.0,196.97 L859.5,186.55 L860.0,174.92 L860.5,162.53 L861.0,149.84 L861.5,137.28 L862.0,125.14 L862.5,112.35 L863.0,99.29 L863.5,86.72 L864.0,74.40 L864.5,60.48 L865.0,48.86 L865.5,44.00 L866.0,48.46 L866.5,59.48 L867.0,73.55 L867.5,87.57 L868.0,103.74 L868.5,125.00 L869.0,163.38 L869.5,204.65 L870.0,224.33 L870.5,238.45 L871.0,260.37 L871.5,290.86 L872.0,320.00 L872.5,344.71 L873.0,366.48 L873.5,383.15 L874.0,397.25 L874.5,407.76 L875.0,414.37 L875.5,419.29 L876.0,423.40 L876.5,427.35 L877.0,430.96 L877.5,434.27 L878.0,437.31 L878.5,440.21 L879.0,443.05 L879.5,445.79 L880.0,448.40 L880.5,450.82 L881.0,453.04 L881.5,455.00 L882.0,456.70 L882.5,458.30 L883.0,459.81 L883.5,461.23 L884.0,462.56 L884.5,463.79 L885.0,464.92 L885.5,465.97 L886.0,466.91 L886.5,467.76 L887.0,468.55 L887.5,469.30 L888.0,470.01 L888.5,470.69 L889.0,471.33 L889.5,471.94 L890.0,472.52 L890.5,473.07 L891.0,473.59 L891.5,474.10 L892.0,474.58 L892.5,475.04 L893.0,475.48 L893.5,475.92 L894.0,476.33 L894.5,476.74 L895.0,477.14 L895.5,477.53 L896.0,477.90 L896.5,478.26 L897.0,478.61 L897.5,478.95 L898.0,479.26 L898.5,479.57 L899.0,479.85 L899.5,480.12 L900.0,480.38 L900.5,480.61 L901.0,480.83 L901.5,481.04 L902.0,481.24 L902.5,481.44 L903.0,481.62 L903.5,481.81 L904.0,481.98 L904.5,482.15 L905.0,482.31 L905.5,482.47 L906.0,482.62 L906.5,482.77 L907.0,482.91 L907.5,483.05 L908.0,483.18 L908.5,483.30 L909.0,483.42 L909.5,483.54 L910.0,483.66 L910.5,483.77 L911.0,483.87 L911.5,483.98 L912.0,484.08 L912.5,484.18 L913.0,484.27 L913.5,484.37 L914.0,484.46 L914.5,484.55 L915.0,484.63 L915.5,484.72 L916.0,484.80 L916.5,484.88 L917.0,484.96 L917.5,485.03 L918.0,485.11 L918.5,485.18 L919.0,485.24 L919.5,485.31 L920.0,485.38 L920.5,485.44 L921.0,485.50 L921.5,485.56 L922.0,485.62 L922.5,485.67 L923.0,485.73 L923.5,485.78 L924.0,485.83 L924.5,485.89 L925.0,485.94 L925.5,485.98 L926.0,486.03 L926.5,486.08 L927.0,486.12 L927.5,486.17 L928.0,486.21 L928.5,486.26 L929.0,486.30 L929.5,486.34 L930.0,486.38 L930.5,486.42 L931.0,486.46 L931.5,486.50 L932.0,486.54 L932.5,486.58 L933.0,486.62 L933.5,486.66 L934.0,486.70 L934.5,486.74 L935.0,486.78 L935.5,486.81 L936.0,486.85 L936.5,486.89 L937.0,486.93 L937.5,486.96 L938.0,487.00 L938.5,487.04 L939.0,487.07 L939.5,487.11 L940.0,487.14 L940.5,487.17 L941.0,487.20 L941.5,487.24 L942.0,487.27 L942.5,487.29 L943.0,487.32 L943.5,487.35 L944.0,487.38 L944.5,487.40 L945.0,487.42 L945.5,487.45 L946.0,487.47 L946.5,487.49 L947.0,487.52 L947.5,487.54 L948.0,487.56 L948.5,487.58 L949.0,487.60 L949.5,487.62 L950.0,487.65 L950.5,487.67 L951.0,487.69 L951.5,487.71 L952.0,487.73 L952.5,487.75 L953.0,487.77 L953.5,487.79 L954.0,487.81 L954.5,487.83 L955.0,487.84 L955.5,487.86 L956.0,487.88 L956.5,487.90 L957.0,487.92 L957.5,487.93 L958.0,487.95 L958.5,487.97 L959.0,487.99 L959.5,488.00 L960.0,488.02 L960.5,488.04 L961.0,488.05 L961.5,488.07 L962.0,488.08 L962.5,488.10 L963.0,488.11 L963.5,488.13 L964.0,488.14 L964.5,488.16 L965.0,488.17 L965.5,488.19 L966.0,488.20 L966.5,488.22 L967.0,488.23 L967.5,488.24 L968.0,488.26 L968.5,488.27 L969.0,488.28 L969.5,488.30 L970.0,488.31 L970.5,488.32 L971.0,488.33 L971.5,488.35 L972.0,488.36 L972.5,488.37 L973.0,488.38 L973.5,488.39 L974.0,488.40 L974.5,488.42 L975.0,488.43 L975.5,488.44 L976.0,488.45 L976.5,488.46 L977.0,488.47 L977.5,488.49 L978.0,488.50 L978.5,488.51 L979.0,488.52 L979.5,488.53 L980.0,488.55 L980.5,488.56 L981.0,488.57 L981.5,488.58 L982.0,488.59 L982.5,488.60 L983.0,488.62 L983.5,488.63 L984.0,488.64 L984.5,488.65 L985.0,488.66 L985.5,488.67 L986.0,488.68 L986.5,488.69 L987.0,488.70 L987.5,488.71 L988.0,488.73 L988.5,488.74 L989.0,488.75 L989.5,488.75 L990.0,488.76 L990.5,488.77 L991.0,488.78 L991.5,488.79 L992.0,488.80 L992.5,488.81 L993.0,488.82 L993.5,488.82 L994.0,488.83 L994.5,488.84 L995.0,488.84 L995.5,488.85 L996.0,488.86 L996.5,488.86 L997.0,488.87 L997.5,488.87 L998.0,488.88 L998.5,488.88 L999.0,488.89 L999.5,488.89 L1000.0,488.89 L1000.5,488.89 L1001.0,488.90 L1001.5,488.90 L1002.0,488.90 L1002.5,488.90 L1003.0,488.90 L1003.5,488.90 L1004.0,488.90 L1004.5,488.90 L1005.0,488.90 L1005.5,488.90 L1006.0,488.90 L1006.5,488.90 L1007.0,488.90 L1007.5,488.90 L1008.0,488.90 L1008.5,488.90 L1009.0,488.90 L1009.5,488.90 L1010.0,488.90 L1010.5,488.90 L1011.0,488.90 L1011.5,488.90 L1012.0,488.90 L1012.5,488.90 L1013.0,488.90 L1013.5,488.90 L1014.0,488.90 L1014.5,488.90 L1015.0,488.90 L1015.5,488.90 L1016.0,488.90 L1016.5,488.90 L1017.0,488.90 L1017.5,488.90 L1018.0,488.90 L1018.5,488.90 L1019.0,488.90 L1019.5,488.90 L1020.0,488.90 L1020.5,488.90 L1021.0,488.90 L1021.5,488.90 L1022.0,488.90 L1022.5,488.90 L1023.0,488.90" fill="none" stroke="#ff0000" stroke-width="4" stroke-linejoin="round" stroke-linecap="round"/>
</g>
<path d="M193.5,533.6 V516.6 M193.5,0.5 V17.5 M237.12,533.6 V524.6 M237.12,0.5 V9.5 M280.75,533.6 V524.6 M280.75,0.5 V9.5 M324.38,533.6 V524.6 M324.38,0.5 V9.5 M368,533.6 V516.6 M368,0.5 V17.5 M411.62,533.6 V524.6 M411.62,0.5 V9.5 M455.25,533.6 V524.6 M455.25,0.5 V9.5 M498.88,533.6 V524.6 M498.88,0.5 V9.5 M542.5,533.6 V516.6 M542.5,0.5 V17.5 M586.12,533.6 V524.6 M586.12,0.5 V9.5 M629.75,533.6 V524.6 M629.75,0.5 V9.5 M673.38,533.6 V524.6 M673.38,0.5 V9.5 M717,533.6 V516.6 M717,0.5 V17.5 M760.62,533.6 V524.6 M760.62,0.5 V9.5 M804.25,533.6 V524.6 M804.25,0.5 V9.5 M847.88,533.6 V524.6 M847.88,0.5 V9.5 M891.5,533.6 V516.6 M891.5,0.5 V17.5 M935.12,533.6 V524.6 M935.12,0.5 V9.5 M978.75,533.6 V524.6 M978.75,0.5 V9.5 M149.75,489.5 H166.75 M1022.5,489.5 H1005.5 M149.75,445.03 H158.75 M1022.5,445.03 H1013.5 M149.75,400.56 H158.75 M1022.5,400.56 H1013.5 M149.75,356.09 H158.75 M1022.5,356.09 H1013.5 M149.75,311.62 H158.75 M1022.5,311.62 H1013.5 M149.75,267.15 H166.75 M1022.5,267.15 H1005.5 M149.75,222.68 H158.75 M1022.5,222.68 H1013.5 M149.75,178.21 H158.75 M1022.5,178.21 H1013.5 M149.75,133.74 H158.75 M1022.5,133.74 H1013.5 M149.75,89.27 H158.75 M1022.5,89.27 H1013.5 M149.75,44.8 H166.75 M1022.5,44.8 H1005.5" stroke="#262626" stroke-width="1" fill="none"/>
<rect x="149.75" y="0.5" width="872.8" height="533.1" fill="none" stroke="#262626" stroke-width="1"/>
<g class="tk"><text transform="translate(150.76,599.20) scale(1,1.044)" style="letter-spacing:-1.2px">350</text>
<text transform="translate(325.66,599.20) scale(1,1.044)" style="letter-spacing:-1.2px">352</text>
<text transform="translate(499.76,599.20) scale(1,1.044)" style="letter-spacing:-1.2px">354</text>
<text transform="translate(674.66,599.20) scale(1,1.044)" style="letter-spacing:-1.2px">356</text>
<text transform="translate(849.16,599.20) scale(1,1.044)" style="letter-spacing:-1.2px">358</text>
<text transform="translate(66.82,287.40) scale(1,1.044)" style="letter-spacing:-1.2px">0.5</text>
<text transform="translate(105.97,509.40) scale(1,1.044)" style="letter-spacing:-1.2px">0</text></g>
<path d="M113.1,35.2 L113.1,38.7 L120.9,38.7 L120.9,64.3 L125.4,64.3 L125.4,28 L122,28 C120.8,31.8 118.4,34.8 113.1,35.2 Z" fill="#262626"/>
<text transform="translate(378.10,658.60) scale(1.0338,1)" style="font-family:'Liberation Serif';font-size:56.5px;fill:#262626;stroke:#262626;stroke-width:0.3px">Wavelength</text>
<text transform="translate(679.08,658.60) scale(1.0281,1)" style="font-family:'Liberation Serif';font-size:56.5px;fill:#262626;stroke:#262626;stroke-width:0.3px">(nm)</text>
<text transform="translate(40.80,445.70) rotate(-90) translate(-1.88,0) scale(1.0635,1)" style="font-family:'Liberation Serif';font-size:56.5px;fill:#262626;stroke:#262626;stroke-width:0.3px">Intensity</text>
<text transform="translate(40.80,212.30) rotate(-90) translate(-1.84,0) scale(1.0407,1)" style="font-family:'Liberation Serif';font-size:56.5px;fill:#262626;stroke:#262626;stroke-width:0.3px">(a.u.)</text>
<rect x="164.5" y="14.5" width="474.5" height="114" fill="#fff" stroke="#262626" stroke-width="1"/>
<circle cx="196.5" cy="44.6" r="3.15" fill="#808080"/>
<path d="M170,99.3 H223.3" stroke="#ff0000" stroke-width="3.8"/>

<path d="M289.3,98.6 H328.6" stroke="#000" stroke-width="2"/>
<path d="M318.6,87.3 Q321.6,96.2 329.7,98.7 Q321.6,101.2 318.6,110.2" stroke="#000" stroke-width="2" fill="none" stroke-linecap="round"/>
<rect x="381.8" y="93.2" width="30.7" height="2" fill="#000"/>
<rect x="381.8" y="101.8" width="30.7" height="2" fill="#000"/>
<path d="M507.2,95.1 H537.3 M507.2,109.2 H537.3 M522.2,80.1 V109.2" stroke="#000" stroke-width="2" fill="none"/>

<text transform="translate(227.45,55.90) scale(0.9947,1)" style="font-family:'Liberation Serif';font-size:48px;fill:#000;stroke:#000;stroke-width:0.3px">Measured</text>
<text transform="translate(430.65,55.90) scale(1.0365,1)" style="font-family:'Liberation Serif';font-size:48px;fill:#000;stroke:#000;stroke-width:0.3px">spectrum</text>
<text transform="translate(227.30,110.00) scale(1.0667,1)" style="font-family:'Liberation Serif';font-size:48px;fill:#000;stroke:#000;stroke-width:0.3px">Fit</text>
<text transform="translate(347.22,110.00) scale(1.0421,1)" style="font-family:'Liberation Serif';font-size:48px;fill:#000;stroke:#000;stroke-width:0.3px">T</text>
<text transform="translate(414.38,110.00) scale(0.9388,1)" style="font-family:'Liberation Serif';font-size:48px;fill:#000;stroke:#000;stroke-width:0.3px">1383</text>
<text transform="translate(537.93,110.00) scale(0.9650,1)" style="font-family:'Liberation Serif';font-size:48px;fill:#000;stroke:#000;stroke-width:0.3px">33</text>
<text transform="translate(600.00,110.00) scale(0.9304,1)" style="font-family:'Liberation Serif';font-size:48px;fill:#000;stroke:#000;stroke-width:0.3px">K</text>
</svg>
</body></html>
